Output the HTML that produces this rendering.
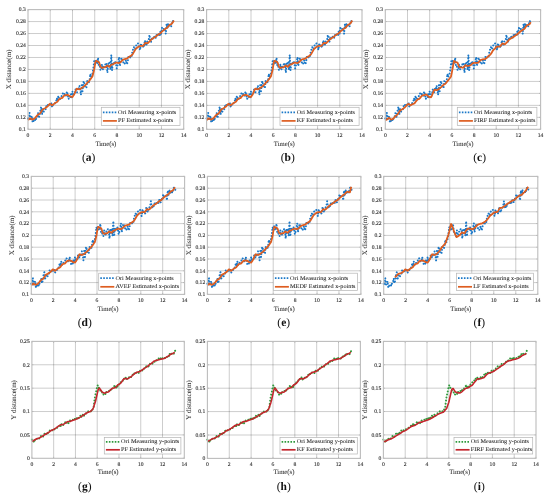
<!DOCTYPE html>
<html><head><meta charset="utf-8"><style>
html,body{margin:0;padding:0;background:#fff;}
svg{display:block;}
text{font-family:"Liberation Serif",serif;fill:#333;text-rendering:geometricPrecision;}
.tk{font-size:5.6px;fill:#333;stroke:#333;stroke-width:0.12px;}
.lb{font-size:6.7px;fill:#333;stroke:#333;stroke-width:0.06px;}
.lg{font-size:5.7px;fill:#222;stroke:#222;stroke-width:0.05px;}
.yl{font-size:7.0px;fill:#333;stroke:#333;stroke-width:0.05px;}
.cap{font-size:11.5px;fill:#111;}
.cb{font-weight:bold;}
</style></head><body>
<svg width="550" height="499" viewBox="0 0 550 499">
<rect width="550" height="499" fill="#fff"/>
<path d="M50.24 9.60V129.30M72.49 9.60V129.30M94.73 9.60V129.30M116.97 9.60V129.30M139.21 9.60V129.30M161.46 9.60V129.30" stroke="#000" stroke-opacity="0.2" stroke-width="1.0" fill="none"/>
<path d="M28.00 117.33H183.70M28.00 105.36H183.70M28.00 93.39H183.70M28.00 81.42H183.70M28.00 69.45H183.70M28.00 57.48H183.70M28.00 45.51H183.70M28.00 33.54H183.70M28.00 21.57H183.70" stroke="#000" stroke-opacity="0.2" stroke-width="1.0" fill="none"/>
<path d="M28.00 129.30V127.80M28.00 9.60V11.10M50.24 129.30V127.80M50.24 9.60V11.10M72.49 129.30V127.80M72.49 9.60V11.10M94.73 129.30V127.80M94.73 9.60V11.10M116.97 129.30V127.80M116.97 9.60V11.10M139.21 129.30V127.80M139.21 9.60V11.10M161.46 129.30V127.80M161.46 9.60V11.10M183.70 129.30V127.80M183.70 9.60V11.10M28.00 129.30H29.50M183.70 129.30H182.20M28.00 117.33H29.50M183.70 117.33H182.20M28.00 105.36H29.50M183.70 105.36H182.20M28.00 93.39H29.50M183.70 93.39H182.20M28.00 81.42H29.50M183.70 81.42H182.20M28.00 69.45H29.50M183.70 69.45H182.20M28.00 57.48H29.50M183.70 57.48H182.20M28.00 45.51H29.50M183.70 45.51H182.20M28.00 33.54H29.50M183.70 33.54H182.20M28.00 21.57H29.50M183.70 21.57H182.20M28.00 9.60H29.50M183.70 9.60H182.20" stroke="#9a9a9a" stroke-width="0.5" fill="none"/>
<polyline points="28.00,118.50 28.78,120.04 29.56,112.70 30.34,119.20 31.11,119.00 31.89,116.00 32.67,122.52 33.45,121.39 34.23,119.10 35.01,119.66 35.79,120.79 36.56,117.26 37.34,116.61 38.12,113.15 38.90,118.04 39.68,114.84 40.46,109.41 41.23,106.86 42.01,114.56 42.79,108.41 43.57,111.87 44.35,110.94 45.13,110.36 45.91,108.60 46.68,104.42 47.46,104.53 48.24,105.56 49.02,106.01 49.80,104.48 50.58,105.12 51.35,103.39 52.13,107.34 52.91,105.15 53.69,104.78 54.47,104.05 55.25,102.56 56.03,101.80 56.80,98.05 57.58,100.73 58.36,95.70 59.14,99.50 59.92,99.31 60.70,97.34 61.48,96.18 62.25,95.88 63.03,92.80 63.81,92.72 64.59,94.19 65.37,96.12 66.15,95.38 66.93,91.42 67.70,94.59 68.48,99.03 69.26,98.07 70.04,98.38 70.82,94.20 71.60,97.37 72.37,91.42 73.15,94.27 73.93,94.23 74.71,94.27 75.49,89.35 76.27,91.27 77.05,92.23 77.82,88.21 78.60,89.10 79.38,85.63 80.16,88.29 80.94,94.78 81.72,85.09 82.50,91.32 83.27,82.28 84.05,81.12 84.83,86.32 85.61,87.73 86.39,87.78 87.17,81.05 87.94,82.73 88.72,82.71 89.50,80.80 90.28,73.91 91.06,77.15 91.84,74.92 92.62,73.11 93.39,67.82 94.17,61.17 94.95,64.03 95.73,60.29 96.51,63.32 97.29,64.14 98.07,57.69 98.84,66.18 99.62,65.80 100.40,69.82 101.18,70.14 101.96,64.13 102.74,69.29 103.51,69.34 104.29,65.06 105.07,64.92 105.85,62.79 106.63,64.56 107.41,72.59 108.19,63.12 108.96,64.41 109.74,62.54 110.52,69.93 111.30,54.95 112.08,70.33 112.86,62.54 113.64,63.55 114.41,64.33 115.19,60.86 115.97,63.42 116.75,68.38 117.53,65.53 118.31,61.54 119.08,57.16 119.86,66.14 120.64,61.92 121.42,57.68 122.20,59.26 122.98,61.29 123.76,63.63 124.53,64.24 125.31,61.36 126.09,60.11 126.87,64.41 127.65,62.24 128.43,56.44 129.21,57.46 129.98,57.66 130.76,56.28 131.54,56.78 132.32,51.90 133.10,49.23 133.88,46.99 134.65,49.26 135.43,48.15 136.21,45.38 136.99,43.72 137.77,43.44 138.55,43.69 139.33,47.95 140.10,49.98 140.88,43.37 141.66,45.42 142.44,44.96 143.22,46.75 144.00,47.47 144.78,40.36 145.55,42.41 146.33,45.94 147.11,41.67 147.89,41.16 148.67,39.88 149.45,34.85 150.22,39.82 151.00,42.27 151.78,38.57 152.56,39.90 153.34,36.51 154.12,36.97 154.90,36.24 155.67,38.03 156.45,34.91 157.23,36.57 158.01,33.32 158.79,34.72 159.57,36.11 160.34,31.40 161.12,33.78 161.90,27.72 162.68,29.59 163.46,28.88 164.24,29.11 165.02,28.74 165.79,33.82 166.57,23.98 167.35,28.32 168.13,23.10 168.91,26.60 169.69,24.95 170.47,24.75 171.24,26.39 172.02,23.29 172.80,20.73 173.58,22.03 174.36,23.37" fill="none" stroke="#1a78c8" stroke-width="2.0" stroke-linecap="round" stroke-dasharray="0.01 3.1"/>
<polyline points="28.00,120.05 28.44,119.71 28.89,119.36 29.33,119.02 29.78,118.67 30.22,118.33 30.67,118.61 31.11,118.89 31.56,119.17 32.00,119.44 32.45,119.57 32.89,119.25 33.34,119.10 33.78,118.96 34.23,118.81 34.67,118.56 35.12,118.01 35.56,117.47 36.01,116.96 36.45,116.44 36.90,115.92 37.34,115.41 37.79,114.89 38.23,114.47 38.68,114.21 39.12,113.95 39.57,113.69 40.01,113.43 40.46,112.95 40.90,112.24 41.35,111.53 41.79,110.81 42.24,110.10 42.68,109.41 43.13,109.18 43.57,108.95 44.01,108.72 44.46,108.49 44.90,108.26 45.35,107.99 45.79,107.67 46.24,107.35 46.68,107.04 47.13,106.73 47.57,106.42 48.02,105.91 48.46,105.40 48.91,104.88 49.35,104.37 49.80,103.86 50.24,103.94 50.69,104.29 51.13,104.63 51.58,104.97 52.02,105.32 52.47,105.01 52.91,104.68 53.36,104.34 53.80,104.01 54.25,103.68 54.69,103.34 55.14,103.04 55.58,102.76 56.03,102.49 56.47,102.21 56.92,101.94 57.36,101.66 57.81,101.08 58.25,100.49 58.70,99.91 59.14,99.32 59.58,98.84 60.03,98.59 60.47,98.45 60.92,98.31 61.36,98.17 61.81,98.03 62.25,97.89 62.70,97.32 63.14,96.76 63.59,96.20 64.03,95.79 64.48,95.44 64.92,95.23 65.37,95.16 65.81,95.10 66.26,95.03 66.70,94.97 67.15,94.91 67.59,94.91 68.04,95.12 68.48,95.33 68.93,95.54 69.37,95.76 69.82,96.09 70.26,96.53 70.71,96.63 71.15,96.73 71.60,96.83 72.04,96.94 72.49,97.02 72.93,96.31 73.38,95.61 73.82,94.91 74.27,94.20 74.71,93.28 75.15,92.15 75.60,91.01 76.04,89.88 76.49,89.23 76.93,88.59 77.38,88.74 77.82,88.89 78.27,89.04 78.71,89.19 79.16,89.34 79.60,89.29 80.05,89.04 80.49,88.79 80.94,88.54 81.38,88.29 81.83,88.04 82.27,87.67 82.72,87.31 83.16,86.95 83.61,86.59 84.05,86.23 84.50,85.84 84.94,85.42 85.39,85.00 85.83,84.58 86.28,84.16 86.72,83.42 87.17,82.96 87.61,82.50 88.06,82.04 88.50,81.58 88.95,81.12 89.39,80.61 89.84,80.04 90.28,79.47 90.72,78.87 91.17,78.18 91.61,77.49 92.06,76.88 92.50,76.27 92.95,74.53 93.39,72.79 93.84,71.05 94.28,68.94 94.73,66.18 95.17,63.42 95.62,61.28 96.06,61.02 96.51,60.75 96.95,61.15 97.40,61.42 97.84,61.63 98.29,61.85 98.73,62.07 99.18,62.52 99.62,63.91 100.07,65.30 100.51,66.69 100.96,67.13 101.40,67.57 101.85,67.81 102.29,67.85 102.74,67.68 103.18,67.51 103.63,67.33 104.07,67.28 104.52,67.34 104.96,67.40 105.41,67.11 105.85,66.70 106.29,66.29 106.74,65.71 107.18,65.35 107.63,65.68 108.07,66.02 108.52,66.35 108.96,66.61 109.41,66.80 109.85,66.43 110.30,65.88 110.74,65.32 111.19,64.77 111.63,64.67 112.08,64.53 112.52,64.38 112.97,64.23 113.41,64.09 113.86,63.78 114.30,63.40 114.75,63.23 115.19,63.06 115.64,62.89 116.08,62.72 116.53,62.65 116.97,62.66 117.42,62.76 117.86,62.86 118.31,62.95 118.75,63.02 119.20,63.04 119.64,62.80 120.09,62.46 120.53,62.12 120.98,61.79 121.42,61.33 121.86,60.88 122.31,60.43 122.75,60.01 123.20,59.70 123.64,59.48 124.09,59.36 124.53,59.23 124.98,59.10 125.42,58.98 125.87,58.85 126.31,58.81 126.76,58.70 127.20,58.38 127.65,58.06 128.09,57.74 128.54,57.40 128.98,57.04 129.43,56.68 129.87,56.40 130.32,56.19 130.76,55.98 131.21,55.57 131.65,55.17 132.10,54.76 132.54,54.36 132.99,53.68 133.43,52.89 133.88,52.10 134.32,51.30 134.77,50.51 135.21,49.79 135.66,49.10 136.10,48.67 136.55,48.24 136.99,47.81 137.43,47.37 137.88,47.02 138.32,46.87 138.77,46.66 139.21,46.46 139.66,46.25 140.10,46.05 140.55,45.84 140.99,45.86 141.44,45.87 141.88,45.89 142.33,45.92 142.77,45.98 143.22,45.72 143.66,45.15 144.11,44.57 144.55,44.00 145.00,43.42 145.44,42.85 145.89,43.02 146.33,43.19 146.78,43.25 147.22,43.18 147.67,43.12 148.11,42.86 148.56,42.41 149.00,41.97 149.45,41.52 149.89,41.07 150.34,40.63 150.78,40.08 151.23,39.68 151.67,39.33 152.12,38.98 152.56,38.63 153.00,38.32 153.45,38.04 153.89,37.76 154.34,37.48 154.78,37.20 155.23,36.92 155.67,36.58 156.12,36.20 156.56,35.82 157.01,35.44 157.45,35.06 157.90,34.74 158.34,34.48 158.79,34.21 159.23,33.95 159.68,33.69 160.12,33.43 160.57,33.00 161.01,32.56 161.46,32.13 161.90,31.69 162.35,31.26 162.79,30.87 163.24,30.55 163.68,30.22 164.13,29.87 164.57,29.47 165.02,29.07 165.46,28.80 165.91,28.52 166.35,28.25 166.80,27.98 167.24,27.71 167.69,27.24 168.13,26.58 168.57,26.02 169.02,25.57 169.46,25.12 169.91,24.67 170.35,24.51 170.80,24.34 171.24,24.17 171.69,23.70 172.13,23.23 172.58,22.65 173.02,21.96 173.47,21.27 173.91,20.58" fill="none" stroke="#de5d20" stroke-width="1.80" stroke-linejoin="round"/>
<rect x="28.00" y="9.60" width="155.70" height="119.70" fill="none" stroke="#bcbcbc" stroke-width="1.1"/>
<text x="28.00" y="136.80" class="tk" text-anchor="middle">0</text>
<text x="50.24" y="136.80" class="tk" text-anchor="middle">2</text>
<text x="72.49" y="136.80" class="tk" text-anchor="middle">4</text>
<text x="94.73" y="136.80" class="tk" text-anchor="middle">6</text>
<text x="116.97" y="136.80" class="tk" text-anchor="middle">8</text>
<text x="139.21" y="136.80" class="tk" text-anchor="middle">10</text>
<text x="161.46" y="136.80" class="tk" text-anchor="middle">12</text>
<text x="183.70" y="136.80" class="tk" text-anchor="middle">14</text>
<text x="25.80" y="131.10" class="tk" text-anchor="end">0.1</text>
<text x="25.80" y="119.13" class="tk" text-anchor="end">0.12</text>
<text x="25.80" y="107.16" class="tk" text-anchor="end">0.14</text>
<text x="25.80" y="95.19" class="tk" text-anchor="end">0.16</text>
<text x="25.80" y="83.22" class="tk" text-anchor="end">0.18</text>
<text x="25.80" y="71.25" class="tk" text-anchor="end">0.2</text>
<text x="25.80" y="59.28" class="tk" text-anchor="end">0.22</text>
<text x="25.80" y="47.31" class="tk" text-anchor="end">0.24</text>
<text x="25.80" y="35.34" class="tk" text-anchor="end">0.26</text>
<text x="25.80" y="23.37" class="tk" text-anchor="end">0.28</text>
<text x="25.80" y="11.40" class="tk" text-anchor="end">0.3</text>
<text x="105.85" y="145.80" class="lb" text-anchor="middle">Time(s)</text>
<text transform="translate(11.10 69.45) rotate(-90)" class="yl" text-anchor="middle">X distance(m)</text>
<rect x="101.30" y="107.30" width="78.70" height="18.20" fill="#fff" stroke="#b4b4b4" stroke-width="0.7"/>
<line x1="102.90" y1="112.30" x2="116.70" y2="112.30" stroke="#1a78c8" stroke-width="1.7" stroke-dasharray="1.6 1.35"/>
<line x1="102.90" y1="120.90" x2="116.90" y2="120.90" stroke="#de5d20" stroke-width="1.7"/>
<text x="118.10" y="113.60" class="lg" textLength="58.20" lengthAdjust="spacingAndGlyphs">Ori Measuring x-points</text>
<text x="118.10" y="121.90" class="lg" textLength="55.11" lengthAdjust="spacingAndGlyphs">PF Estimated x-points</text>
<text x="88.70" y="161.00" class="cap" text-anchor="middle">(<tspan class="cb">a</tspan>)</text>
<path d="M228.80 9.60V129.30M251.00 9.60V129.30M273.20 9.60V129.30M295.40 9.60V129.30M317.60 9.60V129.30M339.80 9.60V129.30" stroke="#000" stroke-opacity="0.2" stroke-width="1.0" fill="none"/>
<path d="M206.60 117.33H362.00M206.60 105.36H362.00M206.60 93.39H362.00M206.60 81.42H362.00M206.60 69.45H362.00M206.60 57.48H362.00M206.60 45.51H362.00M206.60 33.54H362.00M206.60 21.57H362.00" stroke="#000" stroke-opacity="0.2" stroke-width="1.0" fill="none"/>
<path d="M206.60 129.30V127.80M206.60 9.60V11.10M228.80 129.30V127.80M228.80 9.60V11.10M251.00 129.30V127.80M251.00 9.60V11.10M273.20 129.30V127.80M273.20 9.60V11.10M295.40 129.30V127.80M295.40 9.60V11.10M317.60 129.30V127.80M317.60 9.60V11.10M339.80 129.30V127.80M339.80 9.60V11.10M362.00 129.30V127.80M362.00 9.60V11.10M206.60 129.30H208.10M362.00 129.30H360.50M206.60 117.33H208.10M362.00 117.33H360.50M206.60 105.36H208.10M362.00 105.36H360.50M206.60 93.39H208.10M362.00 93.39H360.50M206.60 81.42H208.10M362.00 81.42H360.50M206.60 69.45H208.10M362.00 69.45H360.50M206.60 57.48H208.10M362.00 57.48H360.50M206.60 45.51H208.10M362.00 45.51H360.50M206.60 33.54H208.10M362.00 33.54H360.50M206.60 21.57H208.10M362.00 21.57H360.50M206.60 9.60H208.10M362.00 9.60H360.50" stroke="#9a9a9a" stroke-width="0.5" fill="none"/>
<polyline points="206.60,118.50 207.38,120.04 208.15,112.70 208.93,119.20 209.71,119.00 210.48,116.00 211.26,122.52 212.04,121.39 212.82,119.10 213.59,119.66 214.37,120.79 215.15,117.26 215.92,116.61 216.70,113.15 217.48,118.04 218.25,114.84 219.03,109.41 219.81,106.86 220.59,114.56 221.36,108.41 222.14,111.87 222.92,110.94 223.69,110.36 224.47,108.60 225.25,104.42 226.03,104.53 226.80,105.56 227.58,106.01 228.36,104.48 229.13,105.12 229.91,103.39 230.69,107.34 231.46,105.15 232.24,104.78 233.02,104.05 233.79,102.56 234.57,101.80 235.35,98.05 236.13,100.73 236.90,95.70 237.68,99.50 238.46,99.31 239.23,97.34 240.01,96.18 240.79,95.88 241.56,92.80 242.34,92.72 243.12,94.19 243.90,96.12 244.67,95.38 245.45,91.42 246.23,94.59 247.00,99.03 247.78,98.07 248.56,98.38 249.34,94.20 250.11,97.37 250.89,91.42 251.67,94.27 252.44,94.23 253.22,94.27 254.00,89.35 254.77,91.27 255.55,92.23 256.33,88.21 257.11,89.10 257.88,85.63 258.66,88.29 259.44,94.78 260.21,85.09 260.99,91.32 261.77,82.28 262.54,81.12 263.32,86.32 264.10,87.73 264.88,87.78 265.65,81.05 266.43,82.73 267.21,82.71 267.98,80.80 268.76,73.91 269.54,77.15 270.31,74.92 271.09,73.11 271.87,67.82 272.64,61.17 273.42,64.03 274.20,60.29 274.98,63.32 275.75,64.14 276.53,57.69 277.31,66.18 278.08,65.80 278.86,69.82 279.64,70.14 280.42,64.13 281.19,69.29 281.97,69.34 282.75,65.06 283.52,64.92 284.30,62.79 285.08,64.56 285.85,72.59 286.63,63.12 287.41,64.41 288.19,62.54 288.96,69.93 289.74,54.95 290.52,70.33 291.29,62.54 292.07,63.55 292.85,64.33 293.62,60.86 294.40,63.42 295.18,68.38 295.96,65.53 296.73,61.54 297.51,57.16 298.29,66.14 299.06,61.92 299.84,57.68 300.62,59.26 301.39,61.29 302.17,63.63 302.95,64.24 303.73,61.36 304.50,60.11 305.28,64.41 306.06,62.24 306.83,56.44 307.61,57.46 308.39,57.66 309.16,56.28 309.94,56.78 310.72,51.90 311.50,49.23 312.27,46.99 313.05,49.26 313.83,48.15 314.60,45.38 315.38,43.72 316.16,43.44 316.93,43.69 317.71,47.95 318.49,49.98 319.26,43.37 320.04,45.42 320.82,44.96 321.60,46.75 322.37,47.47 323.15,40.36 323.93,42.41 324.70,45.94 325.48,41.67 326.26,41.16 327.04,39.88 327.81,34.85 328.59,39.82 329.37,42.27 330.14,38.57 330.92,39.90 331.70,36.51 332.47,36.97 333.25,36.24 334.03,38.03 334.81,34.91 335.58,36.57 336.36,33.32 337.14,34.72 337.91,36.11 338.69,31.40 339.47,33.78 340.24,27.72 341.02,29.59 341.80,28.88 342.58,29.11 343.35,28.74 344.13,33.82 344.91,23.98 345.68,28.32 346.46,23.10 347.24,26.60 348.01,24.95 348.79,24.75 349.57,26.39 350.35,23.29 351.12,20.73 351.90,22.03 352.68,23.37" fill="none" stroke="#1a78c8" stroke-width="2.0" stroke-linecap="round" stroke-dasharray="0.01 3.1"/>
<polyline points="206.60,120.05 207.04,119.71 207.49,119.36 207.93,119.02 208.38,118.67 208.82,118.33 209.26,118.61 209.71,118.89 210.15,119.17 210.60,119.44 211.04,119.57 211.48,119.25 211.93,119.10 212.37,118.96 212.82,118.81 213.26,118.56 213.70,118.01 214.15,117.47 214.59,116.96 215.04,116.44 215.48,115.92 215.92,115.41 216.37,114.89 216.81,114.47 217.26,114.21 217.70,113.95 218.14,113.69 218.59,113.43 219.03,112.95 219.48,112.24 219.92,111.53 220.36,110.81 220.81,110.10 221.25,109.41 221.70,109.18 222.14,108.95 222.58,108.72 223.03,108.49 223.47,108.26 223.92,107.99 224.36,107.67 224.80,107.35 225.25,107.04 225.69,106.73 226.14,106.42 226.58,105.91 227.02,105.40 227.47,104.88 227.91,104.37 228.36,103.86 228.80,103.94 229.24,104.29 229.69,104.63 230.13,104.97 230.58,105.32 231.02,105.01 231.46,104.68 231.91,104.34 232.35,104.01 232.80,103.68 233.24,103.34 233.68,103.04 234.13,102.76 234.57,102.49 235.02,102.21 235.46,101.94 235.90,101.66 236.35,101.08 236.79,100.49 237.24,99.91 237.68,99.32 238.12,98.84 238.57,98.59 239.01,98.45 239.46,98.31 239.90,98.17 240.34,98.03 240.79,97.89 241.23,97.32 241.68,96.76 242.12,96.20 242.56,95.79 243.01,95.44 243.45,95.23 243.90,95.16 244.34,95.10 244.78,95.03 245.23,94.97 245.67,94.91 246.12,94.91 246.56,95.12 247.00,95.33 247.45,95.54 247.89,95.76 248.34,96.09 248.78,96.53 249.22,96.63 249.67,96.73 250.11,96.83 250.56,96.94 251.00,97.02 251.44,96.31 251.89,95.61 252.33,94.91 252.78,94.20 253.22,93.28 253.66,92.15 254.11,91.01 254.55,89.88 255.00,89.23 255.44,88.59 255.88,88.74 256.33,88.89 256.77,89.04 257.22,89.19 257.66,89.34 258.10,89.29 258.55,89.04 258.99,88.79 259.44,88.54 259.88,88.29 260.32,88.04 260.77,87.67 261.21,87.31 261.66,86.95 262.10,86.59 262.54,86.23 262.99,85.84 263.43,85.42 263.88,85.00 264.32,84.58 264.76,84.16 265.21,83.42 265.65,82.96 266.10,82.50 266.54,82.04 266.98,81.58 267.43,81.12 267.87,80.61 268.32,80.04 268.76,79.47 269.20,78.87 269.65,78.18 270.09,77.49 270.54,76.88 270.98,76.27 271.42,74.53 271.87,72.79 272.31,71.05 272.76,68.94 273.20,66.18 273.64,63.42 274.09,61.28 274.53,61.02 274.98,60.75 275.42,61.15 275.86,61.42 276.31,61.63 276.75,61.85 277.20,62.07 277.64,62.52 278.08,63.91 278.53,65.30 278.97,66.69 279.42,67.13 279.86,67.57 280.30,67.81 280.75,67.85 281.19,67.68 281.64,67.51 282.08,67.33 282.52,67.28 282.97,67.34 283.41,67.40 283.86,67.11 284.30,66.70 284.74,66.29 285.19,65.71 285.63,65.35 286.08,65.68 286.52,66.02 286.96,66.35 287.41,66.61 287.85,66.80 288.30,66.43 288.74,65.88 289.18,65.32 289.63,64.77 290.07,64.67 290.52,64.53 290.96,64.38 291.40,64.23 291.85,64.09 292.29,63.78 292.74,63.40 293.18,63.23 293.62,63.06 294.07,62.89 294.51,62.72 294.96,62.65 295.40,62.66 295.84,62.76 296.29,62.86 296.73,62.95 297.18,63.02 297.62,63.04 298.06,62.80 298.51,62.46 298.95,62.12 299.40,61.79 299.84,61.33 300.28,60.88 300.73,60.43 301.17,60.01 301.62,59.70 302.06,59.48 302.50,59.36 302.95,59.23 303.39,59.10 303.84,58.98 304.28,58.85 304.72,58.81 305.17,58.70 305.61,58.38 306.06,58.06 306.50,57.74 306.94,57.40 307.39,57.04 307.83,56.68 308.28,56.40 308.72,56.19 309.16,55.98 309.61,55.57 310.05,55.17 310.50,54.76 310.94,54.36 311.38,53.68 311.83,52.89 312.27,52.10 312.72,51.30 313.16,50.51 313.60,49.79 314.05,49.10 314.49,48.67 314.94,48.24 315.38,47.81 315.82,47.37 316.27,47.02 316.71,46.87 317.16,46.66 317.60,46.46 318.04,46.25 318.49,46.05 318.93,45.84 319.38,45.86 319.82,45.87 320.26,45.89 320.71,45.92 321.15,45.98 321.60,45.72 322.04,45.15 322.48,44.57 322.93,44.00 323.37,43.42 323.82,42.85 324.26,43.02 324.70,43.19 325.15,43.25 325.59,43.18 326.04,43.12 326.48,42.86 326.92,42.41 327.37,41.97 327.81,41.52 328.26,41.07 328.70,40.63 329.14,40.08 329.59,39.68 330.03,39.33 330.48,38.98 330.92,38.63 331.36,38.32 331.81,38.04 332.25,37.76 332.70,37.48 333.14,37.20 333.58,36.92 334.03,36.58 334.47,36.20 334.92,35.82 335.36,35.44 335.80,35.06 336.25,34.74 336.69,34.48 337.14,34.21 337.58,33.95 338.02,33.69 338.47,33.43 338.91,33.00 339.36,32.56 339.80,32.13 340.24,31.69 340.69,31.26 341.13,30.87 341.58,30.55 342.02,30.22 342.46,29.87 342.91,29.47 343.35,29.07 343.80,28.80 344.24,28.52 344.68,28.25 345.13,27.98 345.57,27.71 346.02,27.24 346.46,26.58 346.90,26.02 347.35,25.57 347.79,25.12 348.24,24.67 348.68,24.51 349.12,24.34 349.57,24.17 350.01,23.70 350.46,23.23 350.90,22.65 351.34,21.96 351.79,21.27 352.23,20.58" fill="none" stroke="#de5d20" stroke-width="1.80" stroke-linejoin="round"/>
<rect x="206.60" y="9.60" width="155.40" height="119.70" fill="none" stroke="#bcbcbc" stroke-width="1.1"/>
<text x="206.60" y="136.80" class="tk" text-anchor="middle">0</text>
<text x="228.80" y="136.80" class="tk" text-anchor="middle">2</text>
<text x="251.00" y="136.80" class="tk" text-anchor="middle">4</text>
<text x="273.20" y="136.80" class="tk" text-anchor="middle">6</text>
<text x="295.40" y="136.80" class="tk" text-anchor="middle">8</text>
<text x="317.60" y="136.80" class="tk" text-anchor="middle">10</text>
<text x="339.80" y="136.80" class="tk" text-anchor="middle">12</text>
<text x="362.00" y="136.80" class="tk" text-anchor="middle">14</text>
<text x="204.40" y="131.10" class="tk" text-anchor="end">0.1</text>
<text x="204.40" y="119.13" class="tk" text-anchor="end">0.12</text>
<text x="204.40" y="107.16" class="tk" text-anchor="end">0.14</text>
<text x="204.40" y="95.19" class="tk" text-anchor="end">0.16</text>
<text x="204.40" y="83.22" class="tk" text-anchor="end">0.18</text>
<text x="204.40" y="71.25" class="tk" text-anchor="end">0.2</text>
<text x="204.40" y="59.28" class="tk" text-anchor="end">0.22</text>
<text x="204.40" y="47.31" class="tk" text-anchor="end">0.24</text>
<text x="204.40" y="35.34" class="tk" text-anchor="end">0.26</text>
<text x="204.40" y="23.37" class="tk" text-anchor="end">0.28</text>
<text x="204.40" y="11.40" class="tk" text-anchor="end">0.3</text>
<text x="284.30" y="145.80" class="lb" text-anchor="middle">Time(s)</text>
<text transform="translate(189.70 69.45) rotate(-90)" class="yl" text-anchor="middle">X distance(m)</text>
<rect x="280.00" y="107.30" width="79.10" height="18.20" fill="#fff" stroke="#b4b4b4" stroke-width="0.7"/>
<line x1="281.60" y1="112.30" x2="295.40" y2="112.30" stroke="#1a78c8" stroke-width="1.7" stroke-dasharray="1.6 1.35"/>
<line x1="281.60" y1="120.90" x2="295.60" y2="120.90" stroke="#de5d20" stroke-width="1.7"/>
<text x="296.80" y="113.60" class="lg" textLength="58.20" lengthAdjust="spacingAndGlyphs">Ori Measuring x-points</text>
<text x="296.80" y="121.90" class="lg" textLength="56.14" lengthAdjust="spacingAndGlyphs">KF Estimated x-points</text>
<text x="287.70" y="161.00" class="cap" text-anchor="middle">(<tspan class="cb">b</tspan>)</text>
<path d="M407.49 9.60V129.30M429.67 9.60V129.30M451.86 9.60V129.30M474.04 9.60V129.30M496.23 9.60V129.30M518.41 9.60V129.30" stroke="#000" stroke-opacity="0.2" stroke-width="1.0" fill="none"/>
<path d="M385.30 117.33H540.60M385.30 105.36H540.60M385.30 93.39H540.60M385.30 81.42H540.60M385.30 69.45H540.60M385.30 57.48H540.60M385.30 45.51H540.60M385.30 33.54H540.60M385.30 21.57H540.60" stroke="#000" stroke-opacity="0.2" stroke-width="1.0" fill="none"/>
<path d="M385.30 129.30V127.80M385.30 9.60V11.10M407.49 129.30V127.80M407.49 9.60V11.10M429.67 129.30V127.80M429.67 9.60V11.10M451.86 129.30V127.80M451.86 9.60V11.10M474.04 129.30V127.80M474.04 9.60V11.10M496.23 129.30V127.80M496.23 9.60V11.10M518.41 129.30V127.80M518.41 9.60V11.10M540.60 129.30V127.80M540.60 9.60V11.10M385.30 129.30H386.80M540.60 129.30H539.10M385.30 117.33H386.80M540.60 117.33H539.10M385.30 105.36H386.80M540.60 105.36H539.10M385.30 93.39H386.80M540.60 93.39H539.10M385.30 81.42H386.80M540.60 81.42H539.10M385.30 69.45H386.80M540.60 69.45H539.10M385.30 57.48H386.80M540.60 57.48H539.10M385.30 45.51H386.80M540.60 45.51H539.10M385.30 33.54H386.80M540.60 33.54H539.10M385.30 21.57H386.80M540.60 21.57H539.10M385.30 9.60H386.80M540.60 9.60H539.10" stroke="#9a9a9a" stroke-width="0.5" fill="none"/>
<polyline points="385.30,118.50 386.08,120.04 386.85,112.70 387.63,119.20 388.41,119.00 389.18,116.00 389.96,122.52 390.74,121.39 391.51,119.10 392.29,119.66 393.06,120.79 393.84,117.26 394.62,116.61 395.39,113.15 396.17,118.04 396.95,114.84 397.72,109.41 398.50,106.86 399.28,114.56 400.05,108.41 400.83,111.87 401.61,110.94 402.38,110.36 403.16,108.60 403.94,104.42 404.71,104.53 405.49,105.56 406.27,106.01 407.04,104.48 407.82,105.12 408.60,103.39 409.37,107.34 410.15,105.15 410.92,104.78 411.70,104.05 412.48,102.56 413.25,101.80 414.03,98.05 414.81,100.73 415.58,95.70 416.36,99.50 417.14,99.31 417.91,97.34 418.69,96.18 419.47,95.88 420.24,92.80 421.02,92.72 421.80,94.19 422.57,96.12 423.35,95.38 424.12,91.42 424.90,94.59 425.68,99.03 426.45,98.07 427.23,98.38 428.01,94.20 428.78,97.37 429.56,91.42 430.34,94.27 431.11,94.23 431.89,94.27 432.67,89.35 433.44,91.27 434.22,92.23 435.00,88.21 435.77,89.10 436.55,85.63 437.33,88.29 438.10,94.78 438.88,85.09 439.66,91.32 440.43,82.28 441.21,81.12 441.98,86.32 442.76,87.73 443.54,87.78 444.31,81.05 445.09,82.73 445.87,82.71 446.64,80.80 447.42,73.91 448.20,77.15 448.97,74.92 449.75,73.11 450.53,67.82 451.30,61.17 452.08,64.03 452.86,60.29 453.63,63.32 454.41,64.14 455.19,57.69 455.96,66.18 456.74,65.80 457.51,69.82 458.29,70.14 459.07,64.13 459.84,69.29 460.62,69.34 461.40,65.06 462.17,64.92 462.95,62.79 463.73,64.56 464.50,72.59 465.28,63.12 466.06,64.41 466.83,62.54 467.61,69.93 468.39,54.95 469.16,70.33 469.94,62.54 470.72,63.55 471.49,64.33 472.27,60.86 473.04,63.42 473.82,68.38 474.60,65.53 475.37,61.54 476.15,57.16 476.93,66.14 477.70,61.92 478.48,57.68 479.26,59.26 480.03,61.29 480.81,63.63 481.59,64.24 482.36,61.36 483.14,60.11 483.92,64.41 484.69,62.24 485.47,56.44 486.25,57.46 487.02,57.66 487.80,56.28 488.57,56.78 489.35,51.90 490.13,49.23 490.90,46.99 491.68,49.26 492.46,48.15 493.23,45.38 494.01,43.72 494.79,43.44 495.56,43.69 496.34,47.95 497.12,49.98 497.89,43.37 498.67,45.42 499.45,44.96 500.22,46.75 501.00,47.47 501.78,40.36 502.55,42.41 503.33,45.94 504.10,41.67 504.88,41.16 505.66,39.88 506.43,34.85 507.21,39.82 507.99,42.27 508.76,38.57 509.54,39.90 510.32,36.51 511.09,36.97 511.87,36.24 512.65,38.03 513.42,34.91 514.20,36.57 514.98,33.32 515.75,34.72 516.53,36.11 517.31,31.40 518.08,33.78 518.86,27.72 519.63,29.59 520.41,28.88 521.19,29.11 521.96,28.74 522.74,33.82 523.52,23.98 524.29,28.32 525.07,23.10 525.85,26.60 526.62,24.95 527.40,24.75 528.18,26.39 528.95,23.29 529.73,20.73 530.51,22.03 531.28,23.37" fill="none" stroke="#1a78c8" stroke-width="2.0" stroke-linecap="round" stroke-dasharray="0.01 3.1"/>
<polyline points="385.30,120.05 385.74,119.93 386.19,119.82 386.63,119.70 387.07,119.36 387.52,119.01 387.96,118.66 388.41,118.31 388.85,117.96 389.29,118.23 389.74,118.51 390.18,118.78 390.62,119.23 391.07,119.53 391.51,119.38 391.96,119.23 392.40,119.09 392.84,118.96 393.29,118.74 393.73,118.22 394.17,117.71 394.62,117.19 395.06,116.67 395.51,116.26 395.95,115.85 396.39,115.43 396.84,115.02 397.28,114.76 397.72,114.27 398.17,113.56 398.61,112.85 399.06,112.14 399.50,111.43 399.94,110.72 400.39,110.40 400.83,110.08 401.27,109.79 401.72,109.56 402.16,109.33 402.60,109.05 403.05,108.73 403.49,108.42 403.94,108.10 404.38,107.78 404.82,107.46 405.27,106.95 405.71,106.44 406.15,105.93 406.60,105.42 407.04,104.91 407.49,104.50 407.93,104.19 408.37,103.88 408.82,104.07 409.26,104.41 409.70,104.75 410.15,105.07 410.59,105.39 411.04,105.06 411.48,104.73 411.92,104.39 412.37,104.17 412.81,104.05 413.25,103.93 413.70,103.74 414.14,103.46 414.59,103.19 415.03,102.60 415.47,102.02 415.92,101.43 416.36,100.85 416.80,100.26 417.25,99.79 417.69,99.44 418.13,99.19 418.58,99.05 419.02,98.91 419.47,98.77 419.91,98.21 420.35,97.65 420.80,97.08 421.24,96.52 421.68,95.96 422.13,95.54 422.57,95.42 423.02,95.36 423.46,95.30 423.90,95.23 424.35,95.17 424.79,94.95 425.23,94.74 425.68,94.52 426.12,94.52 426.57,94.74 427.01,95.06 427.45,95.51 427.90,95.95 428.34,96.39 428.78,96.83 429.23,96.94 429.67,97.02 430.12,97.10 430.56,97.18 431.00,97.26 431.45,96.56 431.89,95.64 432.33,94.50 432.78,93.37 433.22,92.23 433.66,91.10 434.11,89.96 434.55,89.62 435.00,89.77 435.44,89.92 435.88,90.07 436.33,90.22 436.77,90.17 437.21,89.92 437.66,89.67 438.10,89.42 438.55,89.17 438.99,88.92 439.43,88.52 439.88,88.13 440.32,87.73 440.76,87.36 441.21,87.00 441.65,86.61 442.10,86.19 442.54,85.78 442.98,85.36 443.43,84.94 443.87,84.52 444.31,84.39 444.76,84.25 445.20,83.79 445.65,83.33 446.09,82.87 446.53,82.36 446.98,81.79 447.42,81.22 447.86,80.65 448.31,80.08 448.75,79.51 449.19,78.99 449.64,78.38 450.08,77.77 450.53,77.17 450.97,76.56 451.41,74.59 451.86,72.39 452.30,70.18 452.74,67.84 453.19,65.08 453.63,62.32 454.08,60.85 454.52,61.24 454.96,61.64 455.41,62.04 455.85,62.31 456.29,62.41 456.74,62.39 457.18,62.38 457.63,62.71 458.07,64.10 458.51,65.49 458.96,66.68 459.40,66.92 459.84,67.17 460.29,67.41 460.73,67.44 461.18,67.39 461.62,67.45 462.06,67.51 462.51,67.57 462.95,67.63 463.39,67.69 463.84,67.22 464.28,66.64 464.72,66.05 465.17,65.46 465.61,65.11 466.06,65.37 466.50,65.56 466.94,65.75 467.39,65.94 467.83,66.14 468.27,65.77 468.72,65.69 469.16,65.61 469.61,65.53 470.05,65.43 470.49,65.28 470.94,64.98 471.38,64.53 471.82,64.07 472.27,63.62 472.71,63.23 473.16,63.06 473.60,62.99 474.04,62.92 474.49,62.85 474.93,62.78 475.37,62.80 475.82,62.86 476.26,62.89 476.71,62.91 477.15,62.94 477.59,62.97 478.04,62.72 478.48,62.27 478.92,61.81 479.37,61.36 479.81,60.91 480.25,60.45 480.70,60.09 481.14,59.85 481.59,59.73 482.03,59.60 482.47,59.48 482.92,59.35 483.36,59.31 483.80,59.27 484.25,59.22 484.69,59.18 485.14,59.07 485.58,58.73 486.02,58.37 486.47,58.01 486.91,57.65 487.35,57.29 487.80,56.93 488.24,56.45 488.69,56.04 489.13,55.64 489.57,55.23 490.02,54.83 490.46,54.41 490.90,53.98 491.35,53.28 491.79,52.48 492.24,51.69 492.68,50.89 493.12,50.35 493.57,49.90 494.01,49.46 494.45,49.03 494.90,48.60 495.34,48.11 495.78,47.58 496.23,47.12 496.67,46.92 497.12,46.71 497.56,46.51 498.00,46.52 498.45,46.54 498.89,46.55 499.33,46.57 499.78,46.59 500.22,46.29 500.67,45.68 501.11,45.10 501.55,44.53 502.00,43.96 502.44,43.38 502.88,43.56 503.33,43.73 503.77,43.90 504.22,44.08 504.66,44.25 505.10,44.11 505.55,43.67 505.99,43.22 506.43,42.77 506.88,42.32 507.32,41.88 507.77,41.33 508.21,40.79 508.65,40.24 509.10,39.70 509.54,39.30 509.98,38.98 510.43,38.70 510.87,38.42 511.31,38.14 511.76,37.86 512.20,37.58 512.65,37.36 513.09,37.14 513.53,36.92 513.98,36.58 514.42,36.20 514.86,35.87 515.31,35.61 515.75,35.35 516.20,35.08 516.64,34.82 517.08,34.56 517.53,34.11 517.97,33.67 518.41,33.24 518.86,32.80 519.30,32.37 519.75,31.99 520.19,31.66 520.63,31.33 521.08,31.00 521.52,30.67 521.96,30.34 522.41,30.12 522.85,29.85 523.30,29.58 523.74,29.31 524.18,29.03 524.63,28.57 525.07,27.91 525.51,27.24 525.96,26.58 526.40,25.92 526.84,25.36 527.29,25.20 527.73,25.03 528.18,24.86 528.62,24.69 529.06,24.52 529.51,24.25 529.95,23.56 530.39,22.87 530.84,22.18" fill="none" stroke="#de5d20" stroke-width="1.80" stroke-linejoin="round"/>
<rect x="385.30" y="9.60" width="155.30" height="119.70" fill="none" stroke="#bcbcbc" stroke-width="1.1"/>
<text x="385.30" y="136.80" class="tk" text-anchor="middle">0</text>
<text x="407.49" y="136.80" class="tk" text-anchor="middle">2</text>
<text x="429.67" y="136.80" class="tk" text-anchor="middle">4</text>
<text x="451.86" y="136.80" class="tk" text-anchor="middle">6</text>
<text x="474.04" y="136.80" class="tk" text-anchor="middle">8</text>
<text x="496.23" y="136.80" class="tk" text-anchor="middle">10</text>
<text x="518.41" y="136.80" class="tk" text-anchor="middle">12</text>
<text x="540.60" y="136.80" class="tk" text-anchor="middle">14</text>
<text x="383.10" y="131.10" class="tk" text-anchor="end">0.1</text>
<text x="383.10" y="119.13" class="tk" text-anchor="end">0.12</text>
<text x="383.10" y="107.16" class="tk" text-anchor="end">0.14</text>
<text x="383.10" y="95.19" class="tk" text-anchor="end">0.16</text>
<text x="383.10" y="83.22" class="tk" text-anchor="end">0.18</text>
<text x="383.10" y="71.25" class="tk" text-anchor="end">0.2</text>
<text x="383.10" y="59.28" class="tk" text-anchor="end">0.22</text>
<text x="383.10" y="47.31" class="tk" text-anchor="end">0.24</text>
<text x="383.10" y="35.34" class="tk" text-anchor="end">0.26</text>
<text x="383.10" y="23.37" class="tk" text-anchor="end">0.28</text>
<text x="383.10" y="11.40" class="tk" text-anchor="end">0.3</text>
<text x="462.95" y="145.80" class="lb" text-anchor="middle">Time(s)</text>
<text transform="translate(368.40 69.45) rotate(-90)" class="yl" text-anchor="middle">X distance(m)</text>
<rect x="457.30" y="107.30" width="79.60" height="18.20" fill="#fff" stroke="#b4b4b4" stroke-width="0.7"/>
<line x1="458.90" y1="112.30" x2="472.70" y2="112.30" stroke="#1a78c8" stroke-width="1.7" stroke-dasharray="1.6 1.35"/>
<line x1="458.90" y1="120.90" x2="472.90" y2="120.90" stroke="#de5d20" stroke-width="1.7"/>
<text x="474.10" y="113.60" class="lg" textLength="58.20" lengthAdjust="spacingAndGlyphs">Ori Measuring x-points</text>
<text x="474.10" y="121.90" class="lg" textLength="61.31" lengthAdjust="spacingAndGlyphs">FIRF Estimated x-points</text>
<text x="479.60" y="161.00" class="cap" text-anchor="middle">(<tspan class="cb">c</tspan>)</text>
<path d="M53.20 176.40V294.40M75.10 176.40V294.40M97.00 176.40V294.40M118.90 176.40V294.40M140.80 176.40V294.40M162.70 176.40V294.40" stroke="#000" stroke-opacity="0.2" stroke-width="1.0" fill="none"/>
<path d="M31.30 282.60H184.60M31.30 270.80H184.60M31.30 259.00H184.60M31.30 247.20H184.60M31.30 235.40H184.60M31.30 223.60H184.60M31.30 211.80H184.60M31.30 200.00H184.60M31.30 188.20H184.60" stroke="#000" stroke-opacity="0.2" stroke-width="1.0" fill="none"/>
<path d="M31.30 294.40V292.90M31.30 176.40V177.90M53.20 294.40V292.90M53.20 176.40V177.90M75.10 294.40V292.90M75.10 176.40V177.90M97.00 294.40V292.90M97.00 176.40V177.90M118.90 294.40V292.90M118.90 176.40V177.90M140.80 294.40V292.90M140.80 176.40V177.90M162.70 294.40V292.90M162.70 176.40V177.90M184.60 294.40V292.90M184.60 176.40V177.90M31.30 294.40H32.80M184.60 294.40H183.10M31.30 282.60H32.80M184.60 282.60H183.10M31.30 270.80H32.80M184.60 270.80H183.10M31.30 259.00H32.80M184.60 259.00H183.10M31.30 247.20H32.80M184.60 247.20H183.10M31.30 235.40H32.80M184.60 235.40H183.10M31.30 223.60H32.80M184.60 223.60H183.10M31.30 211.80H32.80M184.60 211.80H183.10M31.30 200.00H32.80M184.60 200.00H183.10M31.30 188.20H32.80M184.60 188.20H183.10M31.30 176.40H32.80M184.60 176.40H183.10" stroke="#9a9a9a" stroke-width="0.5" fill="none"/>
<polyline points="31.30,283.75 32.07,285.27 32.83,278.03 33.60,284.45 34.37,284.24 35.13,281.29 35.90,287.72 36.67,286.60 37.43,284.34 38.20,284.90 38.97,286.01 39.73,282.53 40.50,281.89 41.26,278.48 42.03,283.30 42.80,280.15 43.56,274.80 44.33,272.28 45.10,279.87 45.86,273.81 46.63,277.22 47.40,276.30 48.16,275.72 48.93,274.00 49.70,269.88 50.46,269.98 51.23,271.00 52.00,271.44 52.76,269.93 53.53,270.57 54.30,268.86 55.06,272.75 55.83,270.60 56.59,270.23 57.36,269.50 58.13,268.04 58.89,267.29 59.66,263.59 60.43,266.24 61.19,261.27 61.96,265.02 62.73,264.84 63.49,262.89 64.26,261.75 65.03,261.46 65.79,258.42 66.56,258.34 67.33,259.79 68.09,261.69 68.86,260.96 69.62,257.06 70.39,260.18 71.16,264.56 71.92,263.61 72.69,263.92 73.46,259.80 74.22,262.92 74.99,257.06 75.76,259.87 76.52,259.83 77.29,259.87 78.06,255.02 78.82,256.91 79.59,257.85 80.36,253.90 81.12,254.77 81.89,251.35 82.66,253.97 83.42,260.37 84.19,250.82 84.95,256.96 85.72,248.05 86.49,246.91 87.25,252.03 88.02,253.42 88.79,253.47 89.55,246.84 90.32,248.50 91.09,248.47 91.85,246.59 92.62,239.80 93.39,242.99 94.15,240.79 94.92,239.01 95.69,233.80 96.45,227.23 97.22,230.06 97.99,226.37 98.75,229.36 99.52,230.17 100.28,223.81 101.05,232.17 101.82,231.80 102.58,235.76 103.35,236.08 104.12,230.15 104.88,235.24 105.65,235.29 106.42,231.07 107.18,230.93 107.95,228.83 108.72,230.58 109.48,238.49 110.25,229.16 111.02,230.43 111.78,228.59 112.55,235.87 113.32,221.11 114.08,236.26 114.85,228.58 115.62,229.58 116.38,230.36 117.15,226.93 117.91,229.45 118.68,234.34 119.45,231.54 120.21,227.60 120.98,223.28 121.75,232.14 122.51,227.97 123.28,223.80 124.05,225.35 124.81,227.36 125.58,229.66 126.35,230.27 127.11,227.42 127.88,226.19 128.65,230.43 129.41,228.29 130.18,222.57 130.94,223.58 131.71,223.78 132.48,222.41 133.24,222.91 134.01,218.10 134.78,215.47 135.54,213.25 136.31,215.50 137.08,214.40 137.84,211.67 138.61,210.04 139.38,209.76 140.14,210.01 140.91,214.20 141.68,216.21 142.44,209.69 143.21,211.72 143.98,211.26 144.74,213.02 145.51,213.73 146.28,206.73 147.04,208.74 147.81,212.23 148.57,208.02 149.34,207.51 150.11,206.25 150.87,201.29 151.64,206.19 152.41,208.60 153.17,204.96 153.94,206.27 154.71,202.93 155.47,203.38 156.24,202.66 157.01,204.43 157.77,201.35 158.54,202.98 159.31,199.79 160.07,201.16 160.84,202.54 161.60,197.89 162.37,200.23 163.14,194.27 163.90,196.11 164.67,195.40 165.44,195.64 166.20,195.27 166.97,200.28 167.74,190.57 168.50,194.86 169.27,189.71 170.04,193.16 170.80,191.53 171.57,191.34 172.34,192.96 173.10,189.89 173.87,187.37 174.64,188.66 175.40,189.98" fill="none" stroke="#1a78c8" stroke-width="2.0" stroke-linecap="round" stroke-dasharray="0.01 3.1"/>
<polyline points="31.30,285.28 31.74,284.94 32.18,284.60 32.61,284.26 33.05,283.93 33.49,283.59 33.93,283.86 34.37,284.14 34.80,284.41 35.24,284.68 35.68,284.81 36.12,284.49 36.56,284.35 36.99,284.20 37.43,284.06 37.87,283.81 38.31,283.27 38.75,282.74 39.18,282.23 39.62,281.72 40.06,281.21 40.50,280.70 40.94,280.19 41.37,279.79 41.81,279.53 42.25,279.27 42.69,279.02 43.13,278.76 43.56,278.28 44.00,277.58 44.44,276.88 44.88,276.18 45.32,275.48 45.75,274.80 46.19,274.57 46.63,274.34 47.07,274.11 47.51,273.89 47.94,273.66 48.38,273.39 48.82,273.08 49.26,272.76 49.70,272.46 50.13,272.15 50.57,271.84 51.01,271.34 51.45,270.83 51.89,270.33 52.32,269.83 52.76,269.32 53.20,269.40 53.64,269.74 54.08,270.08 54.51,270.42 54.95,270.76 55.39,270.45 55.83,270.12 56.27,269.80 56.70,269.47 57.14,269.14 57.58,268.81 58.02,268.51 58.46,268.24 58.89,267.97 59.33,267.70 59.77,267.43 60.21,267.15 60.65,266.58 61.08,266.00 61.52,265.42 61.96,264.85 62.40,264.38 62.84,264.12 63.27,263.99 63.71,263.85 64.15,263.71 64.59,263.57 65.03,263.43 65.46,262.88 65.90,262.32 66.34,261.77 66.78,261.37 67.22,261.02 67.65,260.81 68.09,260.75 68.53,260.68 68.97,260.62 69.41,260.56 69.84,260.50 70.28,260.50 70.72,260.70 71.16,260.91 71.60,261.12 72.03,261.33 72.47,261.66 72.91,262.09 73.35,262.19 73.79,262.29 74.22,262.39 74.66,262.50 75.10,262.58 75.54,261.88 75.98,261.19 76.41,260.50 76.85,259.80 77.29,258.90 77.73,257.78 78.17,256.66 78.60,255.54 79.04,254.90 79.48,254.26 79.92,254.41 80.36,254.56 80.79,254.71 81.23,254.86 81.67,255.01 82.11,254.96 82.55,254.71 82.98,254.47 83.42,254.22 83.86,253.97 84.30,253.73 84.74,253.36 85.17,253.01 85.61,252.65 86.05,252.30 86.49,251.94 86.93,251.56 87.36,251.14 87.80,250.73 88.24,250.32 88.68,249.91 89.12,249.17 89.55,248.72 89.99,248.27 90.43,247.81 90.87,247.36 91.31,246.91 91.74,246.40 92.18,245.84 92.62,245.28 93.06,244.68 93.50,244.00 93.93,243.32 94.37,242.72 94.81,242.12 95.25,240.41 95.69,238.69 96.12,236.98 96.56,234.90 97.00,232.18 97.44,229.46 97.88,227.35 98.31,227.09 98.75,226.83 99.19,227.22 99.63,227.48 100.07,227.69 100.50,227.91 100.94,228.12 101.38,228.57 101.82,229.94 102.26,231.31 102.69,232.68 103.13,233.11 103.57,233.55 104.01,233.79 104.45,233.82 104.88,233.65 105.32,233.48 105.76,233.31 106.20,233.26 106.64,233.32 107.07,233.38 107.51,233.09 107.95,232.69 108.39,232.29 108.83,231.71 109.26,231.36 109.70,231.69 110.14,232.01 110.58,232.34 111.02,232.60 111.45,232.79 111.89,232.43 112.33,231.88 112.77,231.33 113.21,230.79 113.64,230.69 114.08,230.55 114.52,230.40 114.96,230.26 115.40,230.11 115.83,229.81 116.27,229.44 116.71,229.27 117.15,229.10 117.59,228.93 118.02,228.76 118.46,228.70 118.90,228.71 119.34,228.80 119.78,228.90 120.21,229.00 120.65,229.06 121.09,229.08 121.53,228.84 121.97,228.51 122.40,228.18 122.84,227.85 123.28,227.40 123.72,226.95 124.16,226.50 124.59,226.09 125.03,225.79 125.47,225.57 125.91,225.45 126.35,225.33 126.78,225.20 127.22,225.08 127.66,224.95 128.10,224.91 128.54,224.80 128.97,224.49 129.41,224.17 129.85,223.86 130.29,223.52 130.73,223.17 131.16,222.81 131.60,222.53 132.04,222.32 132.48,222.12 132.92,221.72 133.35,221.32 133.79,220.92 134.23,220.52 134.67,219.85 135.11,219.08 135.54,218.29 135.98,217.51 136.42,216.73 136.86,216.02 137.30,215.34 137.73,214.92 138.17,214.49 138.61,214.06 139.05,213.64 139.49,213.29 139.92,213.14 140.36,212.94 140.80,212.74 141.24,212.53 141.68,212.33 142.11,212.13 142.55,212.14 142.99,212.16 143.43,212.17 143.87,212.20 144.30,212.26 144.74,212.01 145.18,211.44 145.62,210.87 146.06,210.31 146.49,209.74 146.93,209.18 147.37,209.35 147.81,209.52 148.25,209.57 148.68,209.51 149.12,209.44 149.56,209.19 150.00,208.75 150.44,208.31 150.87,207.87 151.31,207.43 151.75,206.98 152.19,206.45 152.63,206.05 153.06,205.71 153.50,205.36 153.94,205.02 154.38,204.71 154.82,204.43 155.25,204.16 155.69,203.88 156.13,203.61 156.57,203.33 157.01,203.00 157.44,202.62 157.88,202.25 158.32,201.87 158.76,201.50 159.20,201.18 159.63,200.92 160.07,200.66 160.51,200.40 160.95,200.15 161.39,199.89 161.82,199.46 162.26,199.04 162.70,198.61 163.14,198.18 163.58,197.75 164.01,197.37 164.45,197.05 164.89,196.72 165.33,196.38 165.77,195.99 166.20,195.59 166.64,195.32 167.08,195.06 167.52,194.79 167.96,194.52 168.39,194.25 168.83,193.79 169.27,193.14 169.71,192.59 170.15,192.15 170.58,191.70 171.02,191.26 171.46,191.09 171.90,190.93 172.34,190.76 172.77,190.30 173.21,189.84 173.65,189.26 174.09,188.58 174.53,187.90 174.96,187.23" fill="none" stroke="#de5d20" stroke-width="1.80" stroke-linejoin="round"/>
<rect x="31.30" y="176.40" width="153.30" height="118.00" fill="none" stroke="#bcbcbc" stroke-width="1.1"/>
<text x="31.30" y="301.90" class="tk" text-anchor="middle">0</text>
<text x="53.20" y="301.90" class="tk" text-anchor="middle">2</text>
<text x="75.10" y="301.90" class="tk" text-anchor="middle">4</text>
<text x="97.00" y="301.90" class="tk" text-anchor="middle">6</text>
<text x="118.90" y="301.90" class="tk" text-anchor="middle">8</text>
<text x="140.80" y="301.90" class="tk" text-anchor="middle">10</text>
<text x="162.70" y="301.90" class="tk" text-anchor="middle">12</text>
<text x="184.60" y="301.90" class="tk" text-anchor="middle">14</text>
<text x="29.10" y="296.20" class="tk" text-anchor="end">0.1</text>
<text x="29.10" y="284.40" class="tk" text-anchor="end">0.12</text>
<text x="29.10" y="272.60" class="tk" text-anchor="end">0.14</text>
<text x="29.10" y="260.80" class="tk" text-anchor="end">0.16</text>
<text x="29.10" y="249.00" class="tk" text-anchor="end">0.18</text>
<text x="29.10" y="237.20" class="tk" text-anchor="end">0.2</text>
<text x="29.10" y="225.40" class="tk" text-anchor="end">0.22</text>
<text x="29.10" y="213.60" class="tk" text-anchor="end">0.24</text>
<text x="29.10" y="201.80" class="tk" text-anchor="end">0.26</text>
<text x="29.10" y="190.00" class="tk" text-anchor="end">0.28</text>
<text x="29.10" y="178.20" class="tk" text-anchor="end">0.3</text>
<text x="107.95" y="310.90" class="lb" text-anchor="middle">Time(s)</text>
<text transform="translate(14.40 235.40) rotate(-90)" class="yl" text-anchor="middle">X distance(m)</text>
<rect x="98.70" y="273.20" width="82.20" height="17.30" fill="#fff" stroke="#b4b4b4" stroke-width="0.7"/>
<line x1="100.30" y1="278.20" x2="114.10" y2="278.20" stroke="#1a78c8" stroke-width="1.7" stroke-dasharray="1.6 1.35"/>
<line x1="100.30" y1="286.80" x2="114.30" y2="286.80" stroke="#de5d20" stroke-width="1.7"/>
<text x="115.50" y="279.50" class="lg" textLength="58.20" lengthAdjust="spacingAndGlyphs">Ori Measuring x-points</text>
<text x="115.50" y="287.80" class="lg" textLength="63.61" lengthAdjust="spacingAndGlyphs">AVEF Estimated x-points</text>
<text x="84.80" y="326.20" class="cap" text-anchor="middle">(<tspan class="cb">d</tspan>)</text>
<path d="M229.33 176.40V294.40M251.26 176.40V294.40M273.19 176.40V294.40M295.11 176.40V294.40M317.04 176.40V294.40M338.97 176.40V294.40" stroke="#000" stroke-opacity="0.2" stroke-width="1.0" fill="none"/>
<path d="M207.40 282.60H360.90M207.40 270.80H360.90M207.40 259.00H360.90M207.40 247.20H360.90M207.40 235.40H360.90M207.40 223.60H360.90M207.40 211.80H360.90M207.40 200.00H360.90M207.40 188.20H360.90" stroke="#000" stroke-opacity="0.2" stroke-width="1.0" fill="none"/>
<path d="M207.40 294.40V292.90M207.40 176.40V177.90M229.33 294.40V292.90M229.33 176.40V177.90M251.26 294.40V292.90M251.26 176.40V177.90M273.19 294.40V292.90M273.19 176.40V177.90M295.11 294.40V292.90M295.11 176.40V177.90M317.04 294.40V292.90M317.04 176.40V177.90M338.97 294.40V292.90M338.97 176.40V177.90M360.90 294.40V292.90M360.90 176.40V177.90M207.40 294.40H208.90M360.90 294.40H359.40M207.40 282.60H208.90M360.90 282.60H359.40M207.40 270.80H208.90M360.90 270.80H359.40M207.40 259.00H208.90M360.90 259.00H359.40M207.40 247.20H208.90M360.90 247.20H359.40M207.40 235.40H208.90M360.90 235.40H359.40M207.40 223.60H208.90M360.90 223.60H359.40M207.40 211.80H208.90M360.90 211.80H359.40M207.40 200.00H208.90M360.90 200.00H359.40M207.40 188.20H208.90M360.90 188.20H359.40M207.40 176.40H208.90M360.90 176.40H359.40" stroke="#9a9a9a" stroke-width="0.5" fill="none"/>
<polyline points="207.40,283.75 208.17,285.27 208.94,278.03 209.70,284.45 210.47,284.24 211.24,281.29 212.00,287.72 212.77,286.60 213.54,284.34 214.31,284.90 215.08,286.01 215.84,282.53 216.61,281.89 217.38,278.48 218.15,283.30 218.91,280.15 219.68,274.80 220.45,272.28 221.22,279.87 221.98,273.81 222.75,277.22 223.52,276.30 224.28,275.72 225.05,274.00 225.82,269.88 226.59,269.98 227.36,271.00 228.12,271.44 228.89,269.93 229.66,270.57 230.43,268.86 231.19,272.75 231.96,270.60 232.73,270.23 233.50,269.50 234.26,268.04 235.03,267.29 235.80,263.59 236.56,266.24 237.33,261.27 238.10,265.02 238.87,264.84 239.63,262.89 240.40,261.75 241.17,261.46 241.94,258.42 242.70,258.34 243.47,259.79 244.24,261.69 245.01,260.96 245.78,257.06 246.54,260.18 247.31,264.56 248.08,263.61 248.84,263.92 249.61,259.80 250.38,262.92 251.15,257.06 251.91,259.87 252.68,259.83 253.45,259.87 254.22,255.02 254.99,256.91 255.75,257.85 256.52,253.90 257.29,254.77 258.06,251.35 258.82,253.97 259.59,260.37 260.36,250.82 261.12,256.96 261.89,248.05 262.66,246.91 263.43,252.03 264.19,253.42 264.96,253.47 265.73,246.84 266.50,248.50 267.26,248.47 268.03,246.59 268.80,239.80 269.57,242.99 270.33,240.79 271.10,239.01 271.87,233.80 272.64,227.23 273.40,230.06 274.17,226.37 274.94,229.36 275.71,230.17 276.48,223.81 277.24,232.17 278.01,231.80 278.78,235.76 279.55,236.08 280.31,230.15 281.08,235.24 281.85,235.29 282.62,231.07 283.38,230.93 284.15,228.83 284.92,230.58 285.69,238.49 286.45,229.16 287.22,230.43 287.99,228.59 288.75,235.87 289.52,221.11 290.29,236.26 291.06,228.58 291.82,229.58 292.59,230.36 293.36,226.93 294.13,229.45 294.89,234.34 295.66,231.54 296.43,227.60 297.20,223.28 297.97,232.14 298.73,227.97 299.50,223.80 300.27,225.35 301.03,227.36 301.80,229.66 302.57,230.27 303.34,227.42 304.11,226.19 304.87,230.43 305.64,228.29 306.41,222.57 307.18,223.58 307.94,223.78 308.71,222.41 309.48,222.91 310.25,218.10 311.01,215.47 311.78,213.25 312.55,215.50 313.31,214.40 314.08,211.67 314.85,210.04 315.62,209.76 316.38,210.01 317.15,214.20 317.92,216.21 318.69,209.69 319.45,211.72 320.22,211.26 320.99,213.02 321.76,213.73 322.52,206.73 323.29,208.74 324.06,212.23 324.83,208.02 325.59,207.51 326.36,206.25 327.13,201.29 327.90,206.19 328.66,208.60 329.43,204.96 330.20,206.27 330.97,202.93 331.74,203.38 332.50,202.66 333.27,204.43 334.04,201.35 334.81,202.98 335.57,199.79 336.34,201.16 337.11,202.54 337.88,197.89 338.64,200.23 339.41,194.27 340.18,196.11 340.94,195.40 341.71,195.64 342.48,195.27 343.25,200.28 344.01,190.57 344.78,194.86 345.55,189.71 346.32,193.16 347.09,191.53 347.85,191.34 348.62,192.96 349.39,189.89 350.15,187.37 350.92,188.66 351.69,189.98" fill="none" stroke="#1a78c8" stroke-width="2.0" stroke-linecap="round" stroke-dasharray="0.01 3.1"/>
<polyline points="207.40,285.28 207.84,284.94 208.28,284.60 208.72,284.26 209.15,283.93 209.59,283.59 210.03,283.86 210.47,284.14 210.91,284.41 211.35,284.68 211.79,284.81 212.22,284.49 212.66,284.35 213.10,284.20 213.54,284.06 213.98,283.81 214.42,283.27 214.86,282.74 215.29,282.23 215.73,281.72 216.17,281.21 216.61,280.70 217.05,280.19 217.49,279.79 217.93,279.53 218.36,279.27 218.80,279.02 219.24,278.76 219.68,278.28 220.12,277.58 220.56,276.88 221.00,276.18 221.43,275.48 221.87,274.80 222.31,274.57 222.75,274.34 223.19,274.11 223.63,273.89 224.07,273.66 224.50,273.39 224.94,273.08 225.38,272.76 225.82,272.46 226.26,272.15 226.70,271.84 227.14,271.34 227.57,270.83 228.01,270.33 228.45,269.83 228.89,269.32 229.33,269.40 229.77,269.74 230.21,270.08 230.64,270.42 231.08,270.76 231.52,270.45 231.96,270.12 232.40,269.80 232.84,269.47 233.28,269.14 233.71,268.81 234.15,268.51 234.59,268.24 235.03,267.97 235.47,267.70 235.91,267.43 236.35,267.15 236.78,266.58 237.22,266.00 237.66,265.42 238.10,264.85 238.54,264.38 238.98,264.12 239.42,263.99 239.85,263.85 240.29,263.71 240.73,263.57 241.17,263.43 241.61,262.88 242.05,262.32 242.49,261.77 242.92,261.37 243.36,261.02 243.80,260.81 244.24,260.75 244.68,260.68 245.12,260.62 245.56,260.56 245.99,260.50 246.43,260.50 246.87,260.70 247.31,260.91 247.75,261.12 248.19,261.33 248.63,261.66 249.06,262.09 249.50,262.19 249.94,262.29 250.38,262.39 250.82,262.50 251.26,262.58 251.70,261.88 252.13,261.19 252.57,260.50 253.01,259.80 253.45,258.90 253.89,257.78 254.33,256.66 254.77,255.54 255.20,254.90 255.64,254.26 256.08,254.41 256.52,254.56 256.96,254.71 257.40,254.86 257.84,255.01 258.27,254.96 258.71,254.71 259.15,254.47 259.59,254.22 260.03,253.97 260.47,253.73 260.91,253.36 261.34,253.01 261.78,252.65 262.22,252.30 262.66,251.94 263.10,251.56 263.54,251.14 263.98,250.73 264.41,250.32 264.85,249.91 265.29,249.17 265.73,248.72 266.17,248.27 266.61,247.81 267.05,247.36 267.48,246.91 267.92,246.40 268.36,245.84 268.80,245.28 269.24,244.68 269.68,244.00 270.12,243.32 270.55,242.72 270.99,242.12 271.43,240.41 271.87,238.69 272.31,236.98 272.75,234.90 273.19,232.18 273.62,229.46 274.06,227.35 274.50,227.09 274.94,226.83 275.38,227.22 275.82,227.48 276.26,227.69 276.69,227.91 277.13,228.12 277.57,228.57 278.01,229.94 278.45,231.31 278.89,232.68 279.33,233.11 279.76,233.55 280.20,233.79 280.64,233.82 281.08,233.65 281.52,233.48 281.96,233.31 282.40,233.26 282.83,233.32 283.27,233.38 283.71,233.09 284.15,232.69 284.59,232.29 285.03,231.71 285.47,231.36 285.90,231.69 286.34,232.01 286.78,232.34 287.22,232.60 287.66,232.79 288.10,232.43 288.54,231.88 288.97,231.33 289.41,230.79 289.85,230.69 290.29,230.55 290.73,230.40 291.17,230.26 291.61,230.11 292.04,229.81 292.48,229.44 292.92,229.27 293.36,229.10 293.80,228.93 294.24,228.76 294.68,228.70 295.11,228.71 295.55,228.80 295.99,228.90 296.43,229.00 296.87,229.06 297.31,229.08 297.75,228.84 298.18,228.51 298.62,228.18 299.06,227.85 299.50,227.40 299.94,226.95 300.38,226.50 300.82,226.09 301.25,225.79 301.69,225.57 302.13,225.45 302.57,225.33 303.01,225.20 303.45,225.08 303.89,224.95 304.32,224.91 304.76,224.80 305.20,224.49 305.64,224.17 306.08,223.86 306.52,223.52 306.96,223.17 307.39,222.81 307.83,222.53 308.27,222.32 308.71,222.12 309.15,221.72 309.59,221.32 310.03,220.92 310.46,220.52 310.90,219.85 311.34,219.08 311.78,218.29 312.22,217.51 312.66,216.73 313.10,216.02 313.53,215.34 313.97,214.92 314.41,214.49 314.85,214.06 315.29,213.64 315.73,213.29 316.17,213.14 316.60,212.94 317.04,212.74 317.48,212.53 317.92,212.33 318.36,212.13 318.80,212.14 319.24,212.16 319.67,212.17 320.11,212.20 320.55,212.26 320.99,212.01 321.43,211.44 321.87,210.87 322.31,210.31 322.74,209.74 323.18,209.18 323.62,209.35 324.06,209.52 324.50,209.57 324.94,209.51 325.38,209.44 325.81,209.19 326.25,208.75 326.69,208.31 327.13,207.87 327.57,207.43 328.01,206.98 328.45,206.45 328.88,206.05 329.32,205.71 329.76,205.36 330.20,205.02 330.64,204.71 331.08,204.43 331.52,204.16 331.95,203.88 332.39,203.61 332.83,203.33 333.27,203.00 333.71,202.62 334.15,202.25 334.59,201.87 335.02,201.50 335.46,201.18 335.90,200.92 336.34,200.66 336.78,200.40 337.22,200.15 337.66,199.89 338.09,199.46 338.53,199.04 338.97,198.61 339.41,198.18 339.85,197.75 340.29,197.37 340.73,197.05 341.16,196.72 341.60,196.38 342.04,195.99 342.48,195.59 342.92,195.32 343.36,195.06 343.80,194.79 344.23,194.52 344.67,194.25 345.11,193.79 345.55,193.14 345.99,192.64 346.43,192.30 346.87,191.95 347.30,191.66 347.74,191.78 348.18,191.91 348.62,192.04 349.06,192.17 349.50,192.29 349.94,192.31 350.37,190.45 350.81,188.58 351.25,186.71" fill="none" stroke="#de5d20" stroke-width="1.80" stroke-linejoin="round"/>
<rect x="207.40" y="176.40" width="153.50" height="118.00" fill="none" stroke="#bcbcbc" stroke-width="1.1"/>
<text x="207.40" y="301.90" class="tk" text-anchor="middle">0</text>
<text x="229.33" y="301.90" class="tk" text-anchor="middle">2</text>
<text x="251.26" y="301.90" class="tk" text-anchor="middle">4</text>
<text x="273.19" y="301.90" class="tk" text-anchor="middle">6</text>
<text x="295.11" y="301.90" class="tk" text-anchor="middle">8</text>
<text x="317.04" y="301.90" class="tk" text-anchor="middle">10</text>
<text x="338.97" y="301.90" class="tk" text-anchor="middle">12</text>
<text x="360.90" y="301.90" class="tk" text-anchor="middle">14</text>
<text x="205.20" y="296.20" class="tk" text-anchor="end">0.1</text>
<text x="205.20" y="284.40" class="tk" text-anchor="end">0.12</text>
<text x="205.20" y="272.60" class="tk" text-anchor="end">0.14</text>
<text x="205.20" y="260.80" class="tk" text-anchor="end">0.16</text>
<text x="205.20" y="249.00" class="tk" text-anchor="end">0.18</text>
<text x="205.20" y="237.20" class="tk" text-anchor="end">0.2</text>
<text x="205.20" y="225.40" class="tk" text-anchor="end">0.22</text>
<text x="205.20" y="213.60" class="tk" text-anchor="end">0.24</text>
<text x="205.20" y="201.80" class="tk" text-anchor="end">0.26</text>
<text x="205.20" y="190.00" class="tk" text-anchor="end">0.28</text>
<text x="205.20" y="178.20" class="tk" text-anchor="end">0.3</text>
<text x="284.15" y="310.90" class="lb" text-anchor="middle">Time(s)</text>
<text transform="translate(190.50 235.40) rotate(-90)" class="yl" text-anchor="middle">X distance(m)</text>
<rect x="273.30" y="273.20" width="84.30" height="17.30" fill="#fff" stroke="#b4b4b4" stroke-width="0.7"/>
<line x1="274.90" y1="278.20" x2="288.70" y2="278.20" stroke="#1a78c8" stroke-width="1.7" stroke-dasharray="1.6 1.35"/>
<line x1="274.90" y1="286.80" x2="288.90" y2="286.80" stroke="#de5d20" stroke-width="1.7"/>
<text x="290.10" y="279.50" class="lg" textLength="58.20" lengthAdjust="spacingAndGlyphs">Ori Measuring x-points</text>
<text x="290.10" y="287.80" class="lg" textLength="65.44" lengthAdjust="spacingAndGlyphs">MEDF Estimated x-points</text>
<text x="283.70" y="326.20" class="cap" text-anchor="middle">(<tspan class="cb">e</tspan>)</text>
<path d="M405.71 176.40V294.40M427.73 176.40V294.40M449.74 176.40V294.40M471.76 176.40V294.40M493.77 176.40V294.40M515.79 176.40V294.40" stroke="#000" stroke-opacity="0.2" stroke-width="1.0" fill="none"/>
<path d="M383.70 282.60H537.80M383.70 270.80H537.80M383.70 259.00H537.80M383.70 247.20H537.80M383.70 235.40H537.80M383.70 223.60H537.80M383.70 211.80H537.80M383.70 200.00H537.80M383.70 188.20H537.80" stroke="#000" stroke-opacity="0.2" stroke-width="1.0" fill="none"/>
<path d="M383.70 294.40V292.90M383.70 176.40V177.90M405.71 294.40V292.90M405.71 176.40V177.90M427.73 294.40V292.90M427.73 176.40V177.90M449.74 294.40V292.90M449.74 176.40V177.90M471.76 294.40V292.90M471.76 176.40V177.90M493.77 294.40V292.90M493.77 176.40V177.90M515.79 294.40V292.90M515.79 176.40V177.90M537.80 294.40V292.90M537.80 176.40V177.90M383.70 294.40H385.20M537.80 294.40H536.30M383.70 282.60H385.20M537.80 282.60H536.30M383.70 270.80H385.20M537.80 270.80H536.30M383.70 259.00H385.20M537.80 259.00H536.30M383.70 247.20H385.20M537.80 247.20H536.30M383.70 235.40H385.20M537.80 235.40H536.30M383.70 223.60H385.20M537.80 223.60H536.30M383.70 211.80H385.20M537.80 211.80H536.30M383.70 200.00H385.20M537.80 200.00H536.30M383.70 188.20H385.20M537.80 188.20H536.30M383.70 176.40H385.20M537.80 176.40H536.30" stroke="#9a9a9a" stroke-width="0.5" fill="none"/>
<polyline points="383.70,283.75 384.47,285.27 385.24,278.03 386.01,284.45 386.78,284.24 387.55,281.29 388.32,287.72 389.09,286.60 389.86,284.34 390.63,284.90 391.40,286.01 392.18,282.53 392.95,281.89 393.72,278.48 394.49,283.30 395.26,280.15 396.03,274.80 396.80,272.28 397.57,279.87 398.34,273.81 399.11,277.22 399.88,276.30 400.65,275.72 401.42,274.00 402.19,269.88 402.96,269.98 403.73,271.00 404.50,271.44 405.27,269.93 406.04,270.57 406.81,268.86 407.59,272.75 408.36,270.60 409.13,270.23 409.90,269.50 410.67,268.04 411.44,267.29 412.21,263.59 412.98,266.24 413.75,261.27 414.52,265.02 415.29,264.84 416.06,262.89 416.83,261.75 417.60,261.46 418.37,258.42 419.14,258.34 419.91,259.79 420.68,261.69 421.45,260.96 422.22,257.06 423.00,260.18 423.77,264.56 424.54,263.61 425.31,263.92 426.08,259.80 426.85,262.92 427.62,257.06 428.39,259.87 429.16,259.83 429.93,259.87 430.70,255.02 431.47,256.91 432.24,257.85 433.01,253.90 433.78,254.77 434.55,251.35 435.32,253.97 436.09,260.37 436.86,250.82 437.63,256.96 438.41,248.05 439.18,246.91 439.95,252.03 440.72,253.42 441.49,253.47 442.26,246.84 443.03,248.50 443.80,248.47 444.57,246.59 445.34,239.80 446.11,242.99 446.88,240.79 447.65,239.01 448.42,233.80 449.19,227.23 449.96,230.06 450.73,226.37 451.50,229.36 452.27,230.17 453.04,223.81 453.82,232.17 454.59,231.80 455.36,235.76 456.13,236.08 456.90,230.15 457.67,235.24 458.44,235.29 459.21,231.07 459.98,230.93 460.75,228.83 461.52,230.58 462.29,238.49 463.06,229.16 463.83,230.43 464.60,228.59 465.37,235.87 466.14,221.11 466.91,236.26 467.68,228.58 468.45,229.58 469.23,230.36 470.00,226.93 470.77,229.45 471.54,234.34 472.31,231.54 473.08,227.60 473.85,223.28 474.62,232.14 475.39,227.97 476.16,223.80 476.93,225.35 477.70,227.36 478.47,229.66 479.24,230.27 480.01,227.42 480.78,226.19 481.55,230.43 482.32,228.29 483.09,222.57 483.87,223.58 484.64,223.78 485.41,222.41 486.18,222.91 486.95,218.10 487.72,215.47 488.49,213.25 489.26,215.50 490.03,214.40 490.80,211.67 491.57,210.04 492.34,209.76 493.11,210.01 493.88,214.20 494.65,216.21 495.42,209.69 496.19,211.72 496.96,211.26 497.73,213.02 498.50,213.73 499.27,206.73 500.05,208.74 500.82,212.23 501.59,208.02 502.36,207.51 503.13,206.25 503.90,201.29 504.67,206.19 505.44,208.60 506.21,204.96 506.98,206.27 507.75,202.93 508.52,203.38 509.29,202.66 510.06,204.43 510.83,201.35 511.60,202.98 512.37,199.79 513.14,201.16 513.91,202.54 514.68,197.89 515.46,200.23 516.23,194.27 517.00,196.11 517.77,195.40 518.54,195.64 519.31,195.27 520.08,200.28 520.85,190.57 521.62,194.86 522.39,189.71 523.16,193.16 523.93,191.53 524.70,191.34 525.47,192.96 526.24,189.89 527.01,187.37 527.78,188.66 528.55,189.98" fill="none" stroke="#1a78c8" stroke-width="2.0" stroke-linecap="round" stroke-dasharray="0.01 3.1"/>
<polyline points="394.71,277.02 395.15,276.93 395.59,276.84 396.03,276.53 396.47,276.00 396.91,275.47 397.35,274.94 397.79,274.40 398.23,273.88 398.67,273.77 399.11,273.65 399.55,273.54 399.99,273.43 400.43,273.32 400.87,273.16 401.31,272.96 401.75,272.76 402.19,272.46 402.63,272.15 403.07,271.84 403.51,271.34 403.95,270.83 404.39,270.33 404.83,269.83 405.27,269.32 405.71,269.40 406.15,269.74 406.59,270.08 407.04,270.42 407.48,270.76 407.92,270.45 408.36,270.12 408.80,269.80 409.24,269.47 409.68,269.14 410.12,268.81 410.56,268.51 411.00,268.24 411.44,267.97 411.88,267.70 412.32,267.43 412.76,267.15 413.20,266.58 413.64,266.00 414.08,265.42 414.52,264.85 414.96,264.38 415.40,264.12 415.84,263.99 416.28,263.85 416.72,263.71 417.16,263.57 417.60,263.43 418.04,262.88 418.48,262.32 418.92,261.77 419.36,261.37 419.80,261.02 420.24,260.81 420.68,260.75 421.12,260.68 421.56,260.62 422.00,260.56 422.45,260.50 422.89,260.50 423.33,260.70 423.77,260.91 424.21,261.12 424.65,261.33 425.09,261.66 425.53,262.09 425.97,262.19 426.41,262.29 426.85,262.39 427.29,262.50 427.73,262.58 428.17,261.88 428.61,261.19 429.05,260.50 429.49,259.80 429.93,258.90 430.37,257.78 430.81,256.66 431.25,255.54 431.69,254.90 432.13,254.26 432.57,254.41 433.01,254.56 433.45,254.71 433.89,254.86 434.33,255.01 434.77,254.96 435.21,254.71 435.65,254.47 436.09,254.22 436.53,253.97 436.97,253.73 437.41,253.26 437.86,252.76 438.30,252.27 438.74,251.77 439.18,251.28 439.62,250.76 440.06,250.20 440.50,249.46 440.94,248.73 441.38,247.99 441.82,247.25 442.26,246.79 442.70,246.33 443.14,245.87 443.58,245.41 444.02,244.95 444.46,244.44 444.90,243.87 445.34,243.31 445.78,242.35 446.22,240.99 446.66,239.64 447.10,238.37 447.54,237.09 447.98,235.82 448.42,234.43 448.86,232.92 449.30,231.18 449.74,229.22 450.18,227.25 450.62,225.28 451.06,223.95 451.50,224.50 451.94,225.71 452.38,226.91 452.82,228.12 453.27,229.33 453.71,230.55 454.15,231.72 454.59,232.77 455.03,233.83 455.47,234.88 455.91,235.93 456.35,236.98 456.79,236.99 457.23,236.71 457.67,236.43 458.11,236.14 458.55,235.86 458.99,235.70 459.43,235.31 459.87,234.81 460.31,234.31 460.75,233.81 461.19,233.31 461.63,232.64 462.07,232.41 462.51,232.62 462.95,232.83 463.39,233.04 463.83,233.19 464.27,233.26 464.71,233.10 465.15,232.22 465.59,231.34 466.03,230.47 466.47,230.06 466.91,229.65 467.35,229.24 467.79,228.83 468.23,228.42 468.68,228.60 469.12,228.63 469.56,228.67 470.00,228.70 470.44,228.73 470.88,228.76 471.32,228.89 471.76,229.02 472.20,229.15 472.64,229.28 473.08,229.08 473.52,228.74 473.96,228.37 474.40,227.99 474.84,227.62 475.28,227.24 475.72,226.86 476.16,226.37 476.60,225.88 477.04,225.39 477.48,224.98 477.92,224.66 478.36,224.43 478.80,224.29 479.24,224.15 479.68,224.01 480.12,223.87 480.56,223.73 481.00,223.67 481.44,223.62 481.88,223.56 482.32,223.32 482.76,223.08 483.20,222.83 483.64,222.55 484.09,222.27 484.53,222.00 484.97,221.72 485.41,221.44 485.85,220.97 486.29,220.50 486.73,220.03 487.17,219.56 487.61,219.05 488.05,218.48 488.49,217.90 488.93,217.31 489.37,216.73 489.81,216.15 490.25,215.57 490.69,215.24 491.13,214.91 491.57,214.58 492.01,214.25 492.45,213.92 492.89,213.58 493.33,213.31 493.77,213.03 494.21,212.76 494.65,212.49 495.09,212.22 495.53,212.16 495.97,212.11 496.41,212.05 496.85,212.00 497.29,211.95 497.73,211.58 498.17,210.90 498.61,210.16 499.05,209.40 499.50,208.64 499.94,207.88 500.38,207.85 500.82,207.83 501.26,207.80 501.70,207.78 502.14,207.76 502.58,207.54 503.02,207.14 503.46,206.74 503.90,206.42 504.34,206.17 504.78,205.92 505.22,205.57 505.66,205.22 506.10,204.87 506.54,204.52 506.98,204.17 507.42,203.86 507.86,203.58 508.30,203.30 508.74,203.02 509.18,202.74 509.62,202.39 510.06,202.10 510.50,201.80 510.94,201.51 511.38,201.21 511.82,200.92 512.26,200.68 512.70,200.50 513.14,200.32 513.58,200.14 514.02,199.96 514.46,199.77 514.91,199.36 515.35,198.93 515.79,198.50 516.23,198.07 516.67,197.64 517.11,197.26 517.55,196.93 517.99,196.60 518.43,196.28 518.87,195.95 519.31,195.62 519.75,195.42 520.19,195.25 520.63,195.15 521.07,195.05 521.51,194.96 521.95,194.67 522.39,194.19 522.83,193.70 523.27,193.22 523.71,192.74 524.15,192.26 524.59,192.06 525.03,191.49 525.47,190.92 525.91,190.34 526.35,189.77 526.79,189.10 527.23,188.31 527.67,187.52 528.11,186.73" fill="none" stroke="#de5d20" stroke-width="1.80" stroke-linejoin="round"/>
<rect x="383.70" y="176.40" width="154.10" height="118.00" fill="none" stroke="#bcbcbc" stroke-width="1.1"/>
<text x="383.70" y="301.90" class="tk" text-anchor="middle">0</text>
<text x="405.71" y="301.90" class="tk" text-anchor="middle">2</text>
<text x="427.73" y="301.90" class="tk" text-anchor="middle">4</text>
<text x="449.74" y="301.90" class="tk" text-anchor="middle">6</text>
<text x="471.76" y="301.90" class="tk" text-anchor="middle">8</text>
<text x="493.77" y="301.90" class="tk" text-anchor="middle">10</text>
<text x="515.79" y="301.90" class="tk" text-anchor="middle">12</text>
<text x="537.80" y="301.90" class="tk" text-anchor="middle">14</text>
<text x="381.50" y="296.20" class="tk" text-anchor="end">0.1</text>
<text x="381.50" y="284.40" class="tk" text-anchor="end">0.12</text>
<text x="381.50" y="272.60" class="tk" text-anchor="end">0.14</text>
<text x="381.50" y="260.80" class="tk" text-anchor="end">0.16</text>
<text x="381.50" y="249.00" class="tk" text-anchor="end">0.18</text>
<text x="381.50" y="237.20" class="tk" text-anchor="end">0.2</text>
<text x="381.50" y="225.40" class="tk" text-anchor="end">0.22</text>
<text x="381.50" y="213.60" class="tk" text-anchor="end">0.24</text>
<text x="381.50" y="201.80" class="tk" text-anchor="end">0.26</text>
<text x="381.50" y="190.00" class="tk" text-anchor="end">0.28</text>
<text x="381.50" y="178.20" class="tk" text-anchor="end">0.3</text>
<text x="460.75" y="310.90" class="lb" text-anchor="middle">Time(s)</text>
<text transform="translate(366.80 235.40) rotate(-90)" class="yl" text-anchor="middle">X distance(m)</text>
<rect x="456.40" y="273.20" width="77.20" height="17.30" fill="#fff" stroke="#b4b4b4" stroke-width="0.7"/>
<line x1="458.00" y1="278.20" x2="471.80" y2="278.20" stroke="#1a78c8" stroke-width="1.7" stroke-dasharray="1.6 1.35"/>
<line x1="458.00" y1="286.80" x2="472.00" y2="286.80" stroke="#de5d20" stroke-width="1.7"/>
<text x="473.20" y="279.50" class="lg" textLength="58.20" lengthAdjust="spacingAndGlyphs">Ori Measuring x-points</text>
<text x="473.20" y="287.80" class="lg" textLength="55.45" lengthAdjust="spacingAndGlyphs">LF Estimated x-points</text>
<text x="479.30" y="326.20" class="cap" text-anchor="middle">(<tspan class="cb">f</tspan>)</text>
<path d="M53.67 341.40V458.30M75.44 341.40V458.30M97.21 341.40V458.30M118.99 341.40V458.30M140.76 341.40V458.30M162.53 341.40V458.30" stroke="#000" stroke-opacity="0.2" stroke-width="1.0" fill="none"/>
<path d="M31.90 434.92H184.30M31.90 411.54H184.30M31.90 388.16H184.30M31.90 364.78H184.30" stroke="#000" stroke-opacity="0.2" stroke-width="1.0" fill="none"/>
<path d="M31.90 458.30V456.80M31.90 341.40V342.90M53.67 458.30V456.80M53.67 341.40V342.90M75.44 458.30V456.80M75.44 341.40V342.90M97.21 458.30V456.80M97.21 341.40V342.90M118.99 458.30V456.80M118.99 341.40V342.90M140.76 458.30V456.80M140.76 341.40V342.90M162.53 458.30V456.80M162.53 341.40V342.90M184.30 458.30V456.80M184.30 341.40V342.90M31.90 458.30H33.40M184.30 458.30H182.80M31.90 434.92H33.40M184.30 434.92H182.80M31.90 411.54H33.40M184.30 411.54H182.80M31.90 388.16H33.40M184.30 388.16H182.80M31.90 364.78H33.40M184.30 364.78H182.80M31.90 341.40H33.40M184.30 341.40H182.80" stroke="#9a9a9a" stroke-width="0.5" fill="none"/>
<polyline points="31.90,439.63 32.66,441.06 33.42,440.85 34.19,442.40 34.95,439.66 35.71,439.56 36.47,439.37 37.23,438.23 38.00,437.75 38.76,438.69 39.52,438.15 40.28,437.40 41.04,435.98 41.81,435.72 42.57,436.97 43.33,436.37 44.09,434.28 44.85,433.10 45.62,434.09 46.38,434.23 47.14,432.22 47.90,433.03 48.66,431.67 49.43,430.50 50.19,430.88 50.95,430.94 51.71,429.92 52.47,430.70 53.24,429.85 54.00,429.75 54.76,428.98 55.52,428.78 56.28,428.07 57.05,427.80 57.81,426.93 58.57,426.51 59.33,425.86 60.09,424.43 60.86,426.60 61.62,423.68 62.38,424.67 63.14,425.18 63.90,423.86 64.67,423.25 65.43,422.00 66.19,423.52 66.95,422.01 67.71,421.82 68.48,423.14 69.24,422.42 70.00,420.56 70.76,420.19 71.52,419.57 72.29,419.78 73.05,419.62 73.81,419.59 74.57,418.34 75.33,419.89 76.10,418.94 76.86,418.12 77.62,419.51 78.38,416.58 79.14,418.10 79.91,417.10 80.67,414.76 81.43,417.06 82.19,416.44 82.95,414.22 83.72,416.12 84.48,415.09 85.24,413.80 86.00,413.41 86.76,412.83 87.53,412.58 88.29,411.27 89.05,411.11 89.81,411.03 90.57,411.58 91.34,410.83 92.10,411.11 92.86,408.02 93.62,407.21 94.38,400.86 95.15,395.52 95.91,392.92 96.67,388.86 97.43,385.53 98.19,385.32 98.96,388.46 99.72,389.30 100.48,390.96 101.24,392.03 102.00,391.97 102.77,394.72 103.53,394.46 104.29,394.08 105.05,393.02 105.81,394.37 106.58,391.72 107.34,391.79 108.10,390.85 108.86,390.95 109.62,391.86 110.39,390.37 111.15,388.46 111.91,388.54 112.67,388.37 113.43,386.55 114.20,386.00 114.96,387.80 115.72,385.58 116.48,388.36 117.24,387.71 118.01,384.42 118.77,384.70 119.53,383.18 120.29,382.47 121.05,382.24 121.82,380.76 122.58,380.38 123.34,381.02 124.10,378.61 124.86,378.64 125.63,377.18 126.39,379.81 127.15,378.79 127.91,378.91 128.67,378.27 129.44,376.29 130.20,377.05 130.96,377.19 131.72,375.87 132.48,374.55 133.25,375.46 134.01,374.33 134.77,372.24 135.53,372.36 136.29,372.73 137.06,372.80 137.82,372.21 138.58,373.14 139.34,370.61 140.10,370.81 140.87,370.48 141.63,371.25 142.39,370.23 143.15,368.63 143.91,368.35 144.68,368.52 145.44,367.15 146.20,366.28 146.96,367.23 147.72,366.62 148.49,366.43 149.25,366.19 150.01,363.86 150.77,363.52 151.53,363.08 152.30,363.83 153.06,363.12 153.82,361.66 154.58,361.69 155.34,360.94 156.11,361.39 156.87,359.91 157.63,358.62 158.39,358.57 159.15,358.26 159.92,359.40 160.68,358.41 161.44,359.33 162.20,357.95 162.96,358.87 163.73,358.73 164.49,358.64 165.25,357.05 166.01,356.96 166.77,356.57 167.54,357.28 168.30,355.68 169.06,356.62 169.82,353.58 170.58,354.59 171.35,353.88 172.11,353.72 172.87,354.62 173.63,354.01 174.39,352.40 175.16,350.69" fill="none" stroke="#2f9a3c" stroke-width="2.0" stroke-linecap="round" stroke-dasharray="0.01 3.1"/>
<polyline points="31.90,441.50 32.34,441.26 32.77,441.02 33.21,440.78 33.64,440.54 34.08,440.30 34.51,440.06 34.95,439.80 35.38,439.55 35.82,439.30 36.25,439.05 36.69,438.80 37.13,438.66 37.56,438.53 38.00,438.39 38.43,438.26 38.87,438.12 39.30,437.94 39.74,437.73 40.17,437.51 40.61,437.29 41.04,437.07 41.48,436.85 41.91,436.57 42.35,436.28 42.79,435.96 43.22,435.65 43.66,435.33 44.09,435.04 44.53,434.77 44.96,434.51 45.40,434.24 45.83,433.97 46.27,433.70 46.70,433.47 47.14,433.24 47.58,433.01 48.01,432.77 48.45,432.54 48.88,432.25 49.32,431.91 49.75,431.56 50.19,431.21 50.62,430.86 51.06,430.51 51.49,430.35 51.93,430.19 52.37,430.03 52.80,429.86 53.24,429.69 53.67,429.47 54.11,429.18 54.54,428.90 54.98,428.62 55.41,428.34 55.85,428.06 56.28,427.74 56.72,427.42 57.15,427.10 57.59,426.79 58.03,426.47 58.46,426.18 58.90,425.92 59.33,425.66 59.77,425.40 60.20,425.14 60.64,424.88 61.07,424.79 61.51,424.74 61.94,424.70 62.38,424.65 62.82,424.60 63.25,424.44 63.69,424.17 64.12,423.89 64.56,423.61 64.99,423.34 65.43,423.06 65.86,422.77 66.30,422.47 66.73,422.18 67.17,421.91 67.61,421.68 68.04,421.54 68.48,421.51 68.91,421.48 69.35,421.45 69.78,421.43 70.22,421.40 70.65,421.21 71.09,421.03 71.52,420.85 71.96,420.67 72.39,420.48 72.83,420.32 73.27,420.18 73.70,420.04 74.14,419.90 74.57,419.76 75.01,419.62 75.44,419.47 75.88,419.29 76.31,419.09 76.75,418.89 77.18,418.69 77.62,418.48 78.06,418.27 78.49,418.05 78.93,417.83 79.36,417.62 79.80,417.40 80.23,417.13 80.67,416.86 81.10,416.59 81.54,416.32 81.97,416.05 82.41,415.79 82.85,415.53 83.28,415.23 83.72,414.91 84.15,414.60 84.59,414.29 85.02,414.02 85.46,413.75 85.89,413.48 86.33,413.21 86.76,412.94 87.20,412.71 87.63,412.53 88.07,412.36 88.51,412.18 88.94,412.00 89.38,411.82 89.81,411.66 90.25,411.51 90.68,411.16 91.12,410.82 91.55,410.47 91.99,410.03 92.42,409.48 92.86,408.94 93.30,408.00 93.73,406.65 94.17,405.31 94.60,404.08 95.04,402.85 95.47,401.31 95.91,399.46 96.34,397.60 96.78,395.72 97.21,393.80 97.65,391.88 98.09,389.96 98.52,389.08 98.96,388.55 99.39,388.09 99.83,388.70 100.26,389.32 100.70,389.94 101.13,390.55 101.57,391.20 102.00,391.88 102.44,392.15 102.87,392.42 103.31,392.69 103.75,392.97 104.18,393.04 104.62,393.11 105.05,393.01 105.49,392.73 105.92,392.45 106.36,392.29 106.79,392.25 107.23,392.21 107.66,392.17 108.10,392.08 108.54,391.86 108.97,391.44 109.41,391.02 109.84,390.60 110.28,390.18 110.71,389.76 111.15,389.35 111.58,388.95 112.02,388.55 112.45,388.40 112.89,388.24 113.33,388.08 113.76,387.97 114.20,387.87 114.63,387.76 115.07,387.65 115.50,387.40 115.94,386.96 116.37,386.50 116.81,386.04 117.24,385.58 117.68,385.11 118.11,384.65 118.55,384.44 118.99,384.21 119.42,383.97 119.86,383.73 120.29,383.49 120.73,383.08 121.16,382.51 121.60,381.93 122.03,381.31 122.47,380.68 122.90,380.05 123.34,379.55 123.78,379.04 124.21,378.66 124.65,378.64 125.08,378.62 125.52,378.64 125.95,378.69 126.39,378.74 126.82,378.80 127.26,378.85 127.69,378.74 128.13,378.47 128.57,378.20 129.00,377.93 129.44,377.66 129.87,377.39 130.31,377.19 130.74,376.95 131.18,376.60 131.61,376.24 132.05,375.89 132.48,375.54 132.92,375.01 133.35,374.64 133.79,374.27 134.23,373.90 134.66,373.54 135.10,373.22 135.53,372.95 135.97,372.68 136.40,372.48 136.84,372.31 137.27,372.14 137.71,372.04 138.14,371.94 138.58,371.84 139.02,371.74 139.45,371.64 139.89,371.50 140.32,371.22 140.76,370.91 141.19,370.61 141.63,370.30 142.06,370.00 142.50,369.68 142.93,369.37 143.37,369.05 143.81,368.74 144.24,368.42 144.68,368.14 145.11,367.89 145.55,367.64 145.98,367.39 146.42,367.13 146.85,366.88 147.29,366.52 147.72,366.16 148.16,365.79 148.59,365.43 149.03,365.07 149.47,364.72 149.90,364.43 150.34,364.13 150.77,363.84 151.21,363.54 151.64,363.25 152.08,362.85 152.51,362.45 152.95,362.06 153.38,361.66 153.82,361.26 154.26,361.08 154.69,360.93 155.13,360.78 155.56,360.62 156.00,360.47 156.43,360.32 156.87,360.22 157.30,360.12 157.74,360.02 158.17,359.92 158.61,359.82 159.05,359.71 159.48,359.59 159.92,359.47 160.35,359.35 160.79,359.23 161.22,359.12 161.66,359.02 162.09,358.93 162.53,358.83 162.96,358.74 163.40,358.64 163.83,358.53 164.27,358.39 164.71,358.25 165.14,357.97 165.58,357.70 166.01,357.43 166.45,357.16 166.88,356.90 167.32,356.63 167.75,356.36 168.19,356.10 168.62,355.80 169.06,355.48 169.50,355.15 169.93,354.85 170.37,354.55 170.80,354.25 171.24,354.07 171.67,353.90 172.11,353.72 172.54,353.54 172.98,353.37 173.41,353.14 173.85,352.85 174.29,352.56 174.72,352.27" fill="none" stroke="#c3262d" stroke-width="1.60" stroke-linejoin="round"/>
<rect x="31.90" y="341.40" width="152.40" height="116.90" fill="none" stroke="#bcbcbc" stroke-width="1.1"/>
<text x="31.90" y="465.60" class="tk" text-anchor="middle">0</text>
<text x="53.67" y="465.60" class="tk" text-anchor="middle">2</text>
<text x="75.44" y="465.60" class="tk" text-anchor="middle">4</text>
<text x="97.21" y="465.60" class="tk" text-anchor="middle">6</text>
<text x="118.99" y="465.60" class="tk" text-anchor="middle">8</text>
<text x="140.76" y="465.60" class="tk" text-anchor="middle">10</text>
<text x="162.53" y="465.60" class="tk" text-anchor="middle">12</text>
<text x="184.30" y="465.60" class="tk" text-anchor="middle">14</text>
<text x="29.70" y="460.10" class="tk" text-anchor="end">0</text>
<text x="29.70" y="436.72" class="tk" text-anchor="end">0.05</text>
<text x="29.70" y="413.34" class="tk" text-anchor="end">0.1</text>
<text x="29.70" y="389.96" class="tk" text-anchor="end">0.15</text>
<text x="29.70" y="366.58" class="tk" text-anchor="end">0.2</text>
<text x="29.70" y="343.20" class="tk" text-anchor="end">0.25</text>
<text x="108.10" y="474.10" class="lb" text-anchor="middle">Time(s)</text>
<text transform="translate(15.70 399.85) rotate(-90)" class="yl" text-anchor="middle">Y distance(m)</text>
<rect x="104.30" y="437.40" width="76.60" height="16.60" fill="#fff" stroke="#b4b4b4" stroke-width="0.7"/>
<line x1="105.90" y1="441.80" x2="119.70" y2="441.80" stroke="#2f9a3c" stroke-width="1.7" stroke-dasharray="1.6 1.35"/>
<line x1="105.90" y1="449.80" x2="119.90" y2="449.80" stroke="#c3262d" stroke-width="1.7"/>
<text x="121.10" y="443.00" class="lg" textLength="58.20" lengthAdjust="spacingAndGlyphs">Ori Measuring y-points</text>
<text x="121.10" y="451.10" class="lg" textLength="55.11" lengthAdjust="spacingAndGlyphs">PF Estimated y-points</text>
<text x="84.80" y="489.60" class="cap" text-anchor="middle">(<tspan class="cb">g</tspan>)</text>
<path d="M229.26 341.40V458.40M251.11 341.40V458.40M272.97 341.40V458.40M294.83 341.40V458.40M316.69 341.40V458.40M338.54 341.40V458.40" stroke="#000" stroke-opacity="0.2" stroke-width="1.0" fill="none"/>
<path d="M207.40 435.00H360.40M207.40 411.60H360.40M207.40 388.20H360.40M207.40 364.80H360.40" stroke="#000" stroke-opacity="0.2" stroke-width="1.0" fill="none"/>
<path d="M207.40 458.40V456.90M207.40 341.40V342.90M229.26 458.40V456.90M229.26 341.40V342.90M251.11 458.40V456.90M251.11 341.40V342.90M272.97 458.40V456.90M272.97 341.40V342.90M294.83 458.40V456.90M294.83 341.40V342.90M316.69 458.40V456.90M316.69 341.40V342.90M338.54 458.40V456.90M338.54 341.40V342.90M360.40 458.40V456.90M360.40 341.40V342.90M207.40 458.40H208.90M360.40 458.40H358.90M207.40 435.00H208.90M360.40 435.00H358.90M207.40 411.60H208.90M360.40 411.60H358.90M207.40 388.20H208.90M360.40 388.20H358.90M207.40 364.80H208.90M360.40 364.80H358.90M207.40 341.40H208.90M360.40 341.40H358.90" stroke="#9a9a9a" stroke-width="0.5" fill="none"/>
<polyline points="207.40,439.72 208.16,441.14 208.93,440.94 209.69,442.48 210.46,439.75 211.22,439.64 211.99,439.45 212.75,438.31 213.52,437.83 214.28,438.77 215.05,438.23 215.81,437.48 216.58,436.06 217.34,435.80 218.11,437.05 218.88,436.45 219.64,434.36 220.41,433.18 221.17,434.17 221.94,434.31 222.70,432.29 223.47,433.11 224.23,431.75 225.00,430.58 225.76,430.96 226.53,431.02 227.29,430.00 228.06,430.78 228.82,429.92 229.59,429.83 230.35,429.05 231.12,428.86 231.88,428.14 232.65,427.87 233.41,427.01 234.18,426.58 234.94,425.93 235.71,424.50 236.47,426.68 237.24,423.75 238.00,424.74 238.77,425.25 239.53,423.93 240.30,423.32 241.06,422.07 241.82,423.59 242.59,422.08 243.36,421.89 244.12,423.21 244.88,422.49 245.65,420.62 246.41,420.26 247.18,419.63 247.94,419.85 248.71,419.69 249.47,419.66 250.24,418.41 251.00,419.96 251.77,419.01 252.53,418.18 253.30,419.57 254.06,416.65 254.83,418.16 255.59,417.16 256.36,414.82 257.12,417.12 257.89,416.50 258.65,414.28 259.42,416.18 260.19,415.16 260.95,413.86 261.72,413.47 262.48,412.89 263.25,412.64 264.01,411.33 264.77,411.17 265.54,411.09 266.31,411.64 267.07,410.88 267.83,411.17 268.60,408.08 269.37,407.26 270.13,400.91 270.89,395.57 271.66,392.97 272.43,388.90 273.19,385.56 273.95,385.36 274.72,388.50 275.49,389.35 276.25,391.01 277.01,392.07 277.78,392.01 278.55,394.77 279.31,394.50 280.07,394.13 280.84,393.07 281.61,394.42 282.37,391.76 283.13,391.83 283.90,390.89 284.66,390.99 285.43,391.91 286.19,390.41 286.96,388.50 287.73,388.58 288.49,388.41 289.25,386.59 290.02,386.04 290.78,387.84 291.55,385.61 292.31,388.40 293.08,387.75 293.85,384.46 294.61,384.73 295.38,383.22 296.14,382.51 296.90,382.28 297.67,380.80 298.44,380.42 299.20,381.06 299.96,378.65 300.73,378.67 301.50,377.21 302.26,379.84 303.02,378.82 303.79,378.94 304.56,378.30 305.32,376.32 306.08,377.08 306.85,377.22 307.62,375.90 308.38,374.58 309.14,375.49 309.91,374.36 310.68,372.26 311.44,372.39 312.20,372.75 312.97,372.83 313.74,372.23 314.50,373.17 315.26,370.64 316.03,370.84 316.80,370.51 317.56,371.28 318.32,370.25 319.09,368.65 319.86,368.37 320.62,368.54 321.38,367.17 322.15,366.30 322.91,367.25 323.68,366.64 324.44,366.46 325.21,366.21 325.98,363.88 326.74,363.54 327.50,363.10 328.27,363.85 329.03,363.14 329.80,361.68 330.56,361.71 331.33,360.96 332.10,361.41 332.86,359.93 333.62,358.63 334.39,358.58 335.15,358.27 335.92,359.41 336.69,358.42 337.45,359.34 338.22,357.96 338.98,358.88 339.75,358.75 340.51,358.65 341.27,357.06 342.04,356.97 342.81,356.58 343.57,357.30 344.34,355.69 345.10,356.63 345.87,353.59 346.63,354.60 347.39,353.89 348.16,353.73 348.92,354.63 349.69,354.02 350.46,352.41 351.22,350.70" fill="none" stroke="#2f9a3c" stroke-width="2.0" stroke-linecap="round" stroke-dasharray="0.01 3.1"/>
<polyline points="207.40,441.58 207.84,441.34 208.27,441.11 208.71,440.87 209.15,440.63 209.59,440.39 210.02,440.14 210.46,439.89 210.90,439.64 211.33,439.38 211.77,439.13 212.21,438.88 212.65,438.74 213.08,438.61 213.52,438.47 213.96,438.34 214.39,438.20 214.83,438.03 215.27,437.81 215.71,437.59 216.14,437.37 216.58,437.15 217.02,436.94 217.45,436.65 217.89,436.36 218.33,436.04 218.77,435.73 219.20,435.41 219.64,435.12 220.08,434.85 220.51,434.59 220.95,434.32 221.39,434.05 221.83,433.78 222.26,433.55 222.70,433.32 223.14,433.08 223.57,432.85 224.01,432.62 224.45,432.33 224.89,431.98 225.32,431.63 225.76,431.29 226.20,430.94 226.63,430.59 227.07,430.43 227.51,430.27 227.95,430.10 228.38,429.93 228.82,429.77 229.26,429.54 229.69,429.26 230.13,428.98 230.57,428.70 231.01,428.41 231.44,428.13 231.88,427.81 232.32,427.50 232.75,427.18 233.19,426.86 233.63,426.54 234.07,426.25 234.50,425.99 234.94,425.73 235.38,425.47 235.81,425.21 236.25,424.95 236.69,424.86 237.13,424.81 237.56,424.77 238.00,424.72 238.44,424.67 238.87,424.51 239.31,424.24 239.75,423.96 240.19,423.68 240.62,423.41 241.06,423.13 241.50,422.84 241.93,422.54 242.37,422.25 242.81,421.98 243.25,421.74 243.68,421.61 244.12,421.58 244.56,421.55 244.99,421.52 245.43,421.49 245.87,421.46 246.31,421.28 246.74,421.10 247.18,420.92 247.62,420.73 248.05,420.55 248.49,420.39 248.93,420.25 249.37,420.11 249.80,419.97 250.24,419.83 250.68,419.69 251.11,419.54 251.55,419.36 251.99,419.16 252.43,418.96 252.86,418.75 253.30,418.55 253.74,418.33 254.17,418.12 254.61,417.90 255.05,417.68 255.49,417.47 255.92,417.20 256.36,416.93 256.80,416.66 257.23,416.39 257.67,416.11 258.11,415.85 258.55,415.59 258.98,415.29 259.42,414.98 259.86,414.66 260.29,414.35 260.73,414.08 261.17,413.81 261.61,413.54 262.04,413.27 262.48,413.00 262.92,412.77 263.35,412.60 263.79,412.42 264.23,412.24 264.67,412.06 265.10,411.88 265.54,411.72 265.98,411.57 266.41,411.22 266.85,410.87 267.29,410.53 267.73,410.08 268.16,409.54 268.60,409.00 269.04,408.05 269.47,406.71 269.91,405.37 270.35,404.14 270.79,402.91 271.22,401.36 271.66,399.51 272.10,397.65 272.53,395.77 272.97,393.84 273.41,391.92 273.85,390.00 274.28,389.12 274.72,388.59 275.16,388.13 275.59,388.74 276.03,389.36 276.47,389.98 276.91,390.59 277.34,391.24 277.78,391.92 278.22,392.19 278.65,392.47 279.09,392.74 279.53,393.01 279.97,393.08 280.40,393.16 280.84,393.06 281.28,392.77 281.71,392.49 282.15,392.33 282.59,392.29 283.03,392.25 283.46,392.21 283.90,392.12 284.34,391.90 284.77,391.48 285.21,391.06 285.65,390.64 286.09,390.22 286.52,389.80 286.96,389.39 287.40,388.99 287.83,388.59 288.27,388.44 288.71,388.28 289.15,388.12 289.58,388.01 290.02,387.91 290.46,387.80 290.89,387.69 291.33,387.43 291.77,387.00 292.21,386.54 292.64,386.08 293.08,385.61 293.52,385.15 293.95,384.69 294.39,384.48 294.83,384.24 295.27,384.00 295.70,383.77 296.14,383.53 296.58,383.12 297.01,382.54 297.45,381.97 297.89,381.34 298.33,380.71 298.76,380.09 299.20,379.58 299.64,379.08 300.07,378.69 300.51,378.67 300.95,378.66 301.39,378.67 301.82,378.72 302.26,378.78 302.70,378.83 303.13,378.88 303.57,378.77 304.01,378.50 304.45,378.23 304.88,377.96 305.32,377.69 305.76,377.42 306.19,377.22 306.63,376.98 307.07,376.63 307.51,376.27 307.94,375.92 308.38,375.57 308.82,375.03 309.25,374.67 309.69,374.30 310.13,373.93 310.57,373.57 311.00,373.25 311.44,372.97 311.88,372.70 312.31,372.51 312.75,372.34 313.19,372.17 313.63,372.07 314.06,371.97 314.50,371.87 314.94,371.77 315.37,371.67 315.81,371.52 316.25,371.25 316.69,370.94 317.12,370.63 317.56,370.33 318.00,370.02 318.43,369.71 318.87,369.39 319.31,369.08 319.75,368.76 320.18,368.45 320.62,368.17 321.06,367.92 321.49,367.66 321.93,367.41 322.37,367.16 322.81,366.90 323.24,366.54 323.68,366.18 324.12,365.81 324.55,365.45 324.99,365.09 325.43,364.74 325.87,364.45 326.30,364.15 326.74,363.86 327.18,363.56 327.61,363.27 328.05,362.87 328.49,362.47 328.93,362.07 329.36,361.68 329.80,361.28 330.24,361.09 330.67,360.94 331.11,360.79 331.55,360.64 331.99,360.49 332.42,360.34 332.86,360.24 333.30,360.14 333.73,360.04 334.17,359.93 334.61,359.83 335.05,359.73 335.48,359.61 335.92,359.49 336.36,359.37 336.79,359.25 337.23,359.13 337.67,359.04 338.11,358.94 338.54,358.85 338.98,358.75 339.42,358.66 339.85,358.54 340.29,358.40 340.73,358.26 341.17,357.99 341.60,357.71 342.04,357.44 342.48,357.17 342.91,356.91 343.35,356.64 343.79,356.38 344.23,356.11 344.66,355.81 345.10,355.49 345.54,355.16 345.97,354.86 346.41,354.56 346.85,354.26 347.29,354.09 347.72,353.91 348.16,353.73 348.60,353.56 349.03,353.38 349.47,353.15 349.91,352.86 350.35,352.57 350.78,352.28" fill="none" stroke="#c3262d" stroke-width="1.60" stroke-linejoin="round"/>
<rect x="207.40" y="341.40" width="153.00" height="117.00" fill="none" stroke="#bcbcbc" stroke-width="1.1"/>
<text x="207.40" y="465.70" class="tk" text-anchor="middle">0</text>
<text x="229.26" y="465.70" class="tk" text-anchor="middle">2</text>
<text x="251.11" y="465.70" class="tk" text-anchor="middle">4</text>
<text x="272.97" y="465.70" class="tk" text-anchor="middle">6</text>
<text x="294.83" y="465.70" class="tk" text-anchor="middle">8</text>
<text x="316.69" y="465.70" class="tk" text-anchor="middle">10</text>
<text x="338.54" y="465.70" class="tk" text-anchor="middle">12</text>
<text x="360.40" y="465.70" class="tk" text-anchor="middle">14</text>
<text x="205.20" y="460.20" class="tk" text-anchor="end">0</text>
<text x="205.20" y="436.80" class="tk" text-anchor="end">0.05</text>
<text x="205.20" y="413.40" class="tk" text-anchor="end">0.1</text>
<text x="205.20" y="390.00" class="tk" text-anchor="end">0.15</text>
<text x="205.20" y="366.60" class="tk" text-anchor="end">0.2</text>
<text x="205.20" y="343.20" class="tk" text-anchor="end">0.25</text>
<text x="283.90" y="474.20" class="lb" text-anchor="middle">Time(s)</text>
<text transform="translate(191.20 399.90) rotate(-90)" class="yl" text-anchor="middle">Y distance(m)</text>
<rect x="280.00" y="437.40" width="77.30" height="16.60" fill="#fff" stroke="#b4b4b4" stroke-width="0.7"/>
<line x1="281.60" y1="441.80" x2="295.40" y2="441.80" stroke="#2f9a3c" stroke-width="1.7" stroke-dasharray="1.6 1.35"/>
<line x1="281.60" y1="449.80" x2="295.60" y2="449.80" stroke="#c3262d" stroke-width="1.7"/>
<text x="296.80" y="443.00" class="lg" textLength="58.20" lengthAdjust="spacingAndGlyphs">Ori Measuring y-points</text>
<text x="296.80" y="451.10" class="lg" textLength="56.14" lengthAdjust="spacingAndGlyphs">KF Estimated y-points</text>
<text x="283.80" y="489.60" class="cap" text-anchor="middle">(<tspan class="cb">h</tspan>)</text>
<path d="M405.20 341.40V458.30M427.00 341.40V458.30M448.80 341.40V458.30M470.60 341.40V458.30M492.40 341.40V458.30M514.20 341.40V458.30" stroke="#000" stroke-opacity="0.2" stroke-width="1.0" fill="none"/>
<path d="M383.40 434.92H536.00M383.40 411.54H536.00M383.40 388.16H536.00M383.40 364.78H536.00" stroke="#000" stroke-opacity="0.2" stroke-width="1.0" fill="none"/>
<path d="M383.40 458.30V456.80M383.40 341.40V342.90M405.20 458.30V456.80M405.20 341.40V342.90M427.00 458.30V456.80M427.00 341.40V342.90M448.80 458.30V456.80M448.80 341.40V342.90M470.60 458.30V456.80M470.60 341.40V342.90M492.40 458.30V456.80M492.40 341.40V342.90M514.20 458.30V456.80M514.20 341.40V342.90M536.00 458.30V456.80M536.00 341.40V342.90M383.40 458.30H384.90M536.00 458.30H534.50M383.40 434.92H384.90M536.00 434.92H534.50M383.40 411.54H384.90M536.00 411.54H534.50M383.40 388.16H384.90M536.00 388.16H534.50M383.40 364.78H384.90M536.00 364.78H534.50M383.40 341.40H384.90M536.00 341.40H534.50" stroke="#9a9a9a" stroke-width="0.5" fill="none"/>
<polyline points="383.40,439.63 384.16,441.06 384.93,440.85 385.69,442.40 386.45,439.66 387.21,439.56 387.98,439.37 388.74,438.23 389.50,437.75 390.27,438.69 391.03,438.15 391.79,437.40 392.56,435.98 393.32,435.72 394.08,436.97 394.84,436.37 395.61,434.28 396.37,433.10 397.13,434.09 397.90,434.23 398.66,432.22 399.42,433.03 400.19,431.67 400.95,430.50 401.71,430.88 402.47,430.94 403.24,429.92 404.00,430.70 404.76,429.85 405.53,429.75 406.29,428.98 407.05,428.78 407.82,428.07 408.58,427.80 409.34,426.93 410.10,426.51 410.87,425.86 411.63,424.43 412.39,426.60 413.16,423.68 413.92,424.67 414.68,425.18 415.45,423.86 416.21,423.25 416.97,422.00 417.74,423.52 418.50,422.01 419.26,421.82 420.02,423.14 420.79,422.42 421.55,420.56 422.31,420.19 423.08,419.57 423.84,419.78 424.60,419.62 425.37,419.59 426.13,418.34 426.89,419.89 427.65,418.94 428.42,418.12 429.18,419.51 429.94,416.58 430.71,418.10 431.47,417.10 432.23,414.76 433.00,417.06 433.76,416.44 434.52,414.22 435.28,416.12 436.05,415.09 436.81,413.80 437.57,413.41 438.34,412.83 439.10,412.58 439.86,411.27 440.62,411.11 441.39,411.03 442.15,411.58 442.91,410.83 443.68,411.11 444.44,408.02 445.20,407.21 445.97,400.86 446.73,395.52 447.49,392.92 448.25,388.86 449.02,385.53 449.78,385.32 450.54,388.46 451.31,389.30 452.07,390.96 452.83,392.03 453.60,391.97 454.36,394.72 455.12,394.46 455.88,394.08 456.65,393.02 457.41,394.37 458.17,391.72 458.94,391.79 459.70,390.85 460.46,390.95 461.23,391.86 461.99,390.37 462.75,388.46 463.51,388.54 464.28,388.37 465.04,386.55 465.80,386.00 466.57,387.80 467.33,385.58 468.09,388.36 468.86,387.71 469.62,384.42 470.38,384.70 471.14,383.18 471.91,382.47 472.67,382.24 473.43,380.76 474.20,380.38 474.96,381.02 475.72,378.61 476.49,378.64 477.25,377.18 478.01,379.81 478.77,378.79 479.54,378.91 480.30,378.27 481.06,376.29 481.83,377.05 482.59,377.19 483.35,375.87 484.12,374.55 484.88,375.46 485.64,374.33 486.40,372.24 487.17,372.36 487.93,372.73 488.69,372.80 489.46,372.21 490.22,373.14 490.98,370.61 491.75,370.81 492.51,370.48 493.27,371.25 494.03,370.23 494.80,368.63 495.56,368.35 496.32,368.52 497.09,367.15 497.85,366.28 498.61,367.23 499.38,366.62 500.14,366.43 500.90,366.19 501.67,363.86 502.43,363.52 503.19,363.08 503.95,363.83 504.72,363.12 505.48,361.66 506.24,361.69 507.01,360.94 507.77,361.39 508.53,359.91 509.30,358.62 510.06,358.57 510.82,358.26 511.58,359.40 512.35,358.41 513.11,359.33 513.87,357.95 514.64,358.87 515.40,358.73 516.16,358.64 516.92,357.05 517.69,356.96 518.45,356.57 519.21,357.28 519.98,355.68 520.74,356.62 521.50,353.58 522.27,354.59 523.03,353.88 523.79,353.72 524.56,354.62 525.32,354.01 526.08,352.40 526.84,350.69" fill="none" stroke="#2f9a3c" stroke-width="2.0" stroke-linecap="round" stroke-dasharray="0.01 3.1"/>
<polyline points="383.40,441.50 383.84,441.48 384.27,441.46 384.71,441.44 385.14,441.42 385.58,441.28 386.02,441.04 386.45,440.79 386.89,440.53 387.32,440.28 387.76,440.03 388.20,439.78 388.63,439.64 389.07,439.51 389.50,439.37 389.94,439.24 390.38,439.10 390.81,438.93 391.25,438.71 391.68,438.49 392.12,438.27 392.56,438.06 392.99,437.84 393.43,437.55 393.86,437.27 394.30,436.99 394.74,436.70 395.17,436.42 395.61,436.16 396.04,435.90 396.48,435.63 396.92,435.36 397.35,435.09 397.79,434.82 398.22,434.59 398.66,434.36 399.10,434.13 399.53,433.90 399.97,433.66 400.40,433.38 400.84,433.03 401.28,432.68 401.71,432.33 402.15,431.98 402.58,431.64 403.02,431.47 403.46,431.31 403.89,431.15 404.33,430.99 404.76,430.82 405.20,430.60 405.64,430.33 406.07,430.05 406.51,429.77 406.94,429.49 407.38,429.20 407.82,428.89 408.25,428.57 408.69,428.25 409.12,427.93 409.56,427.61 410.00,427.33 410.43,427.06 410.87,426.80 411.30,426.54 411.74,426.28 412.18,426.02 412.61,425.94 413.05,425.85 413.48,425.76 413.92,425.68 414.36,425.59 414.79,425.41 415.23,425.13 415.66,424.85 416.10,424.58 416.54,424.30 416.97,424.03 417.41,423.73 417.84,423.44 418.28,423.15 418.72,422.85 419.15,422.56 419.59,422.37 420.02,422.28 420.46,422.20 420.90,422.17 421.33,422.14 421.77,422.11 422.20,421.93 422.64,421.75 423.08,421.56 423.51,421.38 423.95,421.20 424.38,421.04 424.82,420.90 425.26,420.76 425.69,420.62 426.13,420.48 426.56,420.34 427.00,420.18 427.44,420.03 427.87,419.87 428.31,419.72 428.74,419.56 429.18,419.40 429.62,419.18 430.05,418.97 430.49,418.75 430.92,418.54 431.36,418.32 431.80,418.05 432.23,417.78 432.67,417.51 433.10,417.24 433.54,416.97 433.98,416.70 434.41,416.44 434.85,416.18 435.28,415.92 435.72,415.66 436.16,415.40 436.59,415.17 437.03,414.90 437.46,414.63 437.90,414.36 438.34,414.09 438.77,413.87 439.21,413.69 439.64,413.51 440.08,413.33 440.52,413.15 440.95,412.97 441.39,412.82 441.82,412.66 442.26,412.51 442.70,412.35 443.13,412.19 443.57,411.94 444.00,411.49 444.44,410.95 444.88,410.40 445.31,409.86 445.75,409.32 446.18,408.88 446.62,408.45 447.06,407.22 447.49,405.99 447.93,404.76 448.36,403.51 448.80,402.23 449.24,400.32 449.67,398.42 450.11,396.51 450.54,394.60 450.98,392.74 451.42,390.88 451.85,389.37 452.29,388.90 452.72,388.43 453.16,388.53 453.60,389.21 454.03,389.89 454.47,390.57 454.90,391.24 455.34,391.92 455.78,392.20 456.21,392.27 456.65,392.35 457.08,392.42 457.52,392.50 457.96,392.69 458.39,393.00 458.83,392.96 459.26,392.92 459.70,392.88 460.14,392.84 460.57,392.60 461.01,392.36 461.44,392.12 461.88,391.75 462.32,391.33 462.75,390.92 463.19,390.52 463.62,390.12 464.06,389.72 464.50,389.32 464.93,388.92 465.37,388.57 465.80,388.34 466.24,388.23 466.68,388.13 467.11,388.02 467.55,387.88 467.98,387.71 468.42,387.54 468.86,387.38 469.29,386.91 469.73,386.45 470.16,386.25 470.60,386.05 471.04,385.85 471.47,385.65 471.91,385.46 472.34,385.06 472.78,384.48 473.22,383.91 473.65,383.33 474.09,382.75 474.52,382.18 474.96,381.72 475.40,381.24 475.83,380.73 476.27,380.23 476.70,379.72 477.14,379.25 477.58,378.81 478.01,378.74 478.45,378.80 478.88,378.85 479.32,378.90 479.76,378.85 480.19,378.80 480.63,378.75 481.06,378.65 481.50,378.38 481.94,378.18 482.37,378.05 482.81,377.92 483.24,377.79 483.68,377.66 484.12,377.53 484.55,377.00 484.99,376.46 485.42,375.93 485.86,375.40 486.30,374.87 486.73,374.47 487.17,374.20 487.60,373.92 488.04,373.65 488.48,373.38 488.91,373.11 489.35,372.91 489.78,372.74 490.22,372.64 490.66,372.54 491.09,372.44 491.53,372.29 491.96,372.10 492.40,371.91 492.84,371.71 493.27,371.52 493.71,371.30 494.14,370.99 494.58,370.67 495.02,370.36 495.45,370.04 495.89,369.73 496.32,369.44 496.76,369.17 497.20,368.91 497.63,368.64 498.07,368.38 498.50,368.13 498.94,367.76 499.38,367.40 499.81,367.04 500.25,366.67 500.68,366.31 501.12,366.01 501.56,365.78 501.99,365.55 502.43,365.32 502.86,365.07 503.30,364.77 503.74,364.38 504.17,363.98 504.61,363.58 505.04,363.18 505.48,362.79 505.92,362.42 506.35,362.09 506.79,361.76 507.22,361.43 507.66,361.18 508.10,361.03 508.53,360.93 508.97,360.83 509.40,360.73 509.84,360.63 510.28,360.53 510.71,360.41 511.15,360.26 511.58,360.12 512.02,359.97 512.46,359.83 512.89,359.71 513.33,359.62 513.76,359.52 514.20,359.43 514.64,359.34 515.07,359.24 515.51,359.12 515.94,358.98 516.38,358.84 516.82,358.70 517.25,358.56 517.69,358.42 518.12,358.29 518.56,358.09 519.00,357.83 519.43,357.56 519.87,357.29 520.30,357.00 520.74,356.67 521.18,356.35 521.61,356.02 522.05,355.70 522.48,355.38 522.92,355.17 523.36,354.98 523.79,354.80 524.23,354.62 524.66,354.45 525.10,354.21 525.54,353.92 525.97,353.64 526.41,353.35" fill="none" stroke="#c3262d" stroke-width="1.60" stroke-linejoin="round"/>
<rect x="383.40" y="341.40" width="152.60" height="116.90" fill="none" stroke="#bcbcbc" stroke-width="1.1"/>
<text x="383.40" y="465.60" class="tk" text-anchor="middle">0</text>
<text x="405.20" y="465.60" class="tk" text-anchor="middle">2</text>
<text x="427.00" y="465.60" class="tk" text-anchor="middle">4</text>
<text x="448.80" y="465.60" class="tk" text-anchor="middle">6</text>
<text x="470.60" y="465.60" class="tk" text-anchor="middle">8</text>
<text x="492.40" y="465.60" class="tk" text-anchor="middle">10</text>
<text x="514.20" y="465.60" class="tk" text-anchor="middle">12</text>
<text x="536.00" y="465.60" class="tk" text-anchor="middle">14</text>
<text x="381.20" y="460.10" class="tk" text-anchor="end">0</text>
<text x="381.20" y="436.72" class="tk" text-anchor="end">0.05</text>
<text x="381.20" y="413.34" class="tk" text-anchor="end">0.1</text>
<text x="381.20" y="389.96" class="tk" text-anchor="end">0.15</text>
<text x="381.20" y="366.58" class="tk" text-anchor="end">0.2</text>
<text x="381.20" y="343.20" class="tk" text-anchor="end">0.25</text>
<text x="459.70" y="474.10" class="lb" text-anchor="middle">Time(s)</text>
<text transform="translate(367.20 399.85) rotate(-90)" class="yl" text-anchor="middle">Y distance(m)</text>
<rect x="454.00" y="437.40" width="78.70" height="16.60" fill="#fff" stroke="#b4b4b4" stroke-width="0.7"/>
<line x1="455.60" y1="441.80" x2="469.40" y2="441.80" stroke="#2f9a3c" stroke-width="1.7" stroke-dasharray="1.6 1.35"/>
<line x1="455.60" y1="449.80" x2="469.60" y2="449.80" stroke="#c3262d" stroke-width="1.7"/>
<text x="470.80" y="443.00" class="lg" textLength="58.20" lengthAdjust="spacingAndGlyphs">Ori Measuring y-points</text>
<text x="470.80" y="451.10" class="lg" textLength="61.31" lengthAdjust="spacingAndGlyphs">FIRF Estimated y-points</text>
<text x="479.30" y="489.60" class="cap" text-anchor="middle">(<tspan class="cb">i</tspan>)</text>
</svg>
</body></html>
